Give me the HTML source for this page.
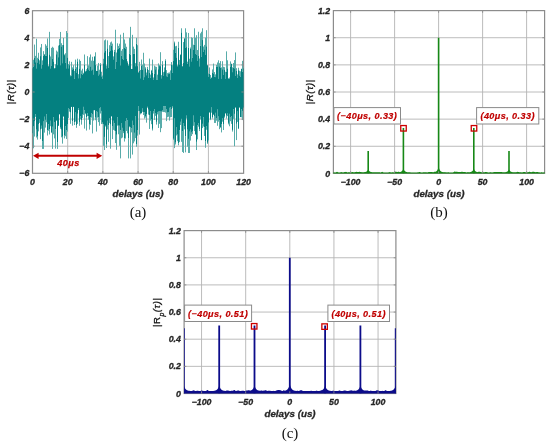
<!DOCTYPE html><html><head><meta charset="utf-8"><style>html,body{margin:0;padding:0;background:#fff}
body{width:550px;height:445px;overflow:hidden}
svg{display:block;filter:blur(0.3px)}
.tk{font-family:'Liberation Sans', Arial, sans-serif;font-size:8.8px;font-weight:bold;font-style:italic;fill:#262626;stroke:#262626;stroke-width:0.3px}
.xl{font-family:'Liberation Sans', Arial, sans-serif;font-size:9.8px;font-weight:bold;font-style:italic;fill:#262626;stroke:#262626;stroke-width:0.3px}
.yl{font-family:'Liberation Sans', Arial, sans-serif;font-size:9.6px;fill:#111;stroke:#111;stroke-width:0.3px;letter-spacing:0.55px}
.cap{font-family:'Liberation Serif',serif;font-size:15px;fill:#111}
.ann{font-family:'Liberation Sans', Arial, sans-serif;font-size:9.1px;font-weight:bold;font-style:italic;fill:#c00000;stroke:#c00000;stroke-width:0.25px;letter-spacing:0.45px}
.ann2{font-family:'Liberation Sans', Arial, sans-serif;font-size:9.1px;font-weight:bold;font-style:italic;fill:#c00000;stroke:#c00000;stroke-width:0.2px;letter-spacing:0.42px}
</style></head><body><svg width="550" height="445" viewBox="0 0 550 445"><rect width="550" height="445" fill="#fff"/><clipPath id="ca"><rect x="32.5" y="10.7" width="211.1" height="162.60000000000002"/></clipPath><path d="M67.68 10.7V173.3M102.87 10.7V173.3M138.05 10.7V173.3M173.23 10.7V173.3M208.42 10.7V173.3M32.5 146.20H243.6M32.5 119.10H243.6M32.5 92.00H243.6M32.5 64.90H243.6M32.5 37.80H243.6" stroke="#b4b4b4" stroke-width="0.9" fill="none"/><rect x="32.5" y="10.7" width="211.1" height="162.60000000000002" fill="none" stroke="#8c8c8c" stroke-width="1.2"/><g clip-path="url(#ca)"><path d="M32.5 68.29V60.22M32.5 134.51V133.18M33.5 66.84V59.78M33.5 148.27V126.59M34.5 57.89V44.57M34.5 136.55V121.59M35.5 62.19V55.87M35.5 116.91V114.36M36.5 68.29V38.77M36.5 137.50V129.74M37.5 62.38V57.81M37.5 139.59V136.66M38.5 58.63V52.78M38.5 131.37V124.51M39.5 64.10V60.33M39.5 122.90V119.19M40.5 56.08V47.44M40.5 139.17V129.75M41.5 68.29V43.98M41.5 128.74V125.84M42.5 64.62V60.38M42.5 148.91V141.20M43.5 55.74V51.17M43.5 148.91V121.62M44.5 54.79V54.00M44.5 132.62V116.80M45.5 55.85V44.21M45.5 127.62V119.88M46.5 55.85V45.71M46.5 122.25V114.36M47.5 47.64V38.46M47.5 135.52V130.23M48.5 66.28V65.63M48.5 130.75V124.28M49.5 54.36V31.84M49.5 134.46V129.37M50.5 68.29V56.47M50.5 126.19V120.83M51.5 65.78V47.87M51.5 133.04V132.39M52.5 59.01V46.75M52.5 148.91V126.82M53.5 61.40V47.74M53.5 134.34V117.08M54.5 68.29V68.29M54.5 138.40V122.46M55.5 68.06V64.27M55.5 148.62V129.22M56.5 54.20V50.55M56.5 120.99V120.19M57.5 65.09V51.67M57.5 148.91V142.42M58.5 57.16V45.58M58.5 126.04V125.75M59.5 44.60V38.92M59.5 114.36V114.36M60.5 65.16V31.95M60.5 128.81V127.67M61.5 46.37V43.21M61.5 137.32V129.79M62.5 63.14V45.05M62.5 143.64V136.76M63.5 45.04V37.92M63.5 116.90V116.25M64.5 55.15V54.37M64.5 138.43V135.64M65.5 62.69V53.25M65.5 136.21V126.28M66.5 68.29V31.02M66.5 138.96V130.21M67.5 57.66V33.04M67.5 131.66V124.32M68.5 68.27V64.16M68.5 117.95V108.41M69.5 65.15V61.29M69.5 111.66V109.02M70.5 76.17V75.27M70.5 123.81V112.67M71.5 76.04V61.84M71.5 106.91V106.91M72.5 69.42V67.36M72.5 125.68V121.13M73.5 68.40V65.16M73.5 106.91V106.91M74.5 78.72V70.87M74.5 125.06V122.43M75.5 68.68V59.59M75.5 121.56V112.57M76.5 72.47V67.19M76.5 127.85V125.25M77.5 61.34V58.68M77.5 123.89V113.80M78.5 78.17V74.20M78.5 109.92V108.16M79.5 68.38V59.43M79.5 125.87V121.94M80.5 78.10V60.91M80.5 119.10V116.45M81.5 73.55V70.52M81.5 124.61V119.99M82.5 74.67V68.74M82.5 117.96V114.66M83.5 73.92V72.82M83.5 114.82V106.91M84.5 65.07V54.49M84.5 128.63V110.38M85.5 71.86V70.87M85.5 114.14V113.43M86.5 70.63V69.22M86.5 130.54V117.37M87.5 68.00V56.12M87.5 116.13V113.06M88.5 69.30V65.35M88.5 119.61V116.37M89.5 71.01V57.30M89.5 129.60V124.65M90.5 66.36V54.44M90.5 124.83V117.37M91.5 70.32V60.63M91.5 117.66V113.20M92.5 69.34V56.80M92.5 133.44V114.57M93.5 74.36V60.80M93.5 120.56V110.68M94.5 56.74V56.07M94.5 110.24V110.16M95.5 65.09V52.32M95.5 120.22V117.65M96.5 71.00V70.90M96.5 131.58V111.18M97.5 70.96V65.63M97.5 117.65V111.95M98.5 75.37V62.95M98.5 122.13V117.21M99.5 74.18V69.72M99.5 125.75V108.61M100.5 64.67V63.10M100.5 113.52V107.59M101.5 76.32V71.77M101.5 124.09V110.94M102.5 78.72V75.56M102.5 123.82V122.37M103.5 63.32V58.85M103.5 145.82V124.02M104.5 52.26V40.35M104.5 150.00V136.95M105.5 50.51V39.49M105.5 126.59V125.76M106.5 68.27V65.50M106.5 148.04V144.67M107.5 48.33V40.35M107.5 129.47V120.82M108.5 67.54V56.06M108.5 141.80V125.34M109.5 52.02V45.19M109.5 123.15V118.47M110.5 50.50V42.36M110.5 148.72V124.65M111.5 45.84V41.54M111.5 116.39V116.39M112.5 50.14V43.64M112.5 139.09V126.02M113.5 59.32V56.36M113.5 129.90V120.80M114.5 51.75V49.87M114.5 130.64V123.26M115.5 68.96V29.73M115.5 143.05V131.45M116.5 61.54V52.54M116.5 149.82V134.81M117.5 49.26V43.32M117.5 125.62V117.37M118.5 48.89V45.93M118.5 134.25V125.76M119.5 47.87V43.72M119.5 145.85V125.80M120.5 65.24V34.66M120.5 158.40V130.25M121.5 55.80V50.70M121.5 138.34V123.51M122.5 59.02V49.05M122.5 137.58V127.91M123.5 59.71V32.82M123.5 133.14V131.63M124.5 47.53V39.52M124.5 141.56V138.49M125.5 48.55V43.59M125.5 138.55V121.51M126.5 58.54V46.79M126.5 130.96V118.37M127.5 62.37V61.26M127.5 133.29V120.45M128.5 65.95V64.63M128.5 158.40V138.25M129.5 53.78V37.79M129.5 127.16V126.49M130.5 54.71V26.83M130.5 158.40V127.51M131.5 68.96V68.96M131.5 132.39V128.22M132.5 68.96V34.83M132.5 154.60V120.83M133.5 53.67V46.64M133.5 143.31V125.03M134.5 53.59V48.89M134.5 141.41V132.87M135.5 66.15V63.15M135.5 138.08V116.39M136.5 43.62V37.89M136.5 146.81V144.22M137.5 66.14V45.20M137.5 135.62V130.04M138.5 72.92V71.92M138.5 111.06V106.23M139.5 70.92V61.89M139.5 134.56V110.97M140.5 78.22V69.95M140.5 114.34V113.55M141.5 65.57V59.47M141.5 113.45V113.14M142.5 69.41V64.73M142.5 111.81V108.63M143.5 79.53V52.76M143.5 115.01V112.19M144.5 77.10V63.54M144.5 118.61V112.50M145.5 68.29V67.19M145.5 117.58V116.10M146.5 75.16V72.50M146.5 122.66V114.09M147.5 68.53V66.88M147.5 107.80V106.84M148.5 77.95V70.03M148.5 114.62V109.76M149.5 72.52V58.59M149.5 128.96V115.40M150.5 77.86V74.57M150.5 120.57V111.07M151.5 70.61V69.91M151.5 124.16V119.01M152.5 72.59V59.61M152.5 130.52V128.83M153.5 79.53V77.48M153.5 113.56V111.09M154.5 73.76V65.58M154.5 119.91V109.20M155.5 69.25V66.53M155.5 115.89V113.00M156.5 79.53V66.87M156.5 124.58V121.91M157.5 79.53V74.64M157.5 114.40V111.97M158.5 69.20V63.39M158.5 127.99V111.69M159.5 66.08V65.09M159.5 123.84V111.50M160.5 66.13V52.19M160.5 132.19V111.63M161.5 78.28V75.17M161.5 128.14V111.70M162.5 65.02V61.13M162.5 111.74V110.53M163.5 75.51V72.18M163.5 112.08V106.24M164.5 71.23V67.41M164.5 112.12V106.23M165.5 60.72V59.33M165.5 112.61V106.23M166.5 76.15V70.08M166.5 121.14V109.44M167.5 76.98V73.14M167.5 117.22V112.68M168.5 74.08V72.63M168.5 116.76V112.05M169.5 73.87V72.47M169.5 120.62V107.89M170.5 79.48V70.41M170.5 117.32V107.10M171.5 64.64V62.06M171.5 117.05V109.11M172.5 72.87V65.17M172.5 107.63V106.23M173.5 60.93V49.80M173.5 139.89V138.78M174.5 43.11V41.64M174.5 148.11V118.57M175.5 52.77V46.25M175.5 144.49V142.69M176.5 57.38V45.82M176.5 135.45V127.02M177.5 66.25V65.29M177.5 141.16V134.74M178.5 47.90V41.77M178.5 145.31V143.25M179.5 64.42V59.95M179.5 142.10V130.26M180.5 55.05V54.42M180.5 125.01V121.86M181.5 32.38V28.31M181.5 141.84V118.91M182.5 66.25V66.25M182.5 151.95V131.38M183.5 62.92V42.07M183.5 152.98V123.49M184.5 38.61V38.04M184.5 129.40V126.02M185.5 47.63V28.31M185.5 152.34V136.29M186.5 47.09V32.36M186.5 118.59V115.71M187.5 63.77V61.66M187.5 146.76V129.69M188.5 47.62V32.98M188.5 152.98V138.93M189.5 66.25V58.76M189.5 152.98V131.74M190.5 48.82V47.53M190.5 140.59V129.72M191.5 61.30V37.32M191.5 136.02V132.65M192.5 57.80V37.96M192.5 134.19V131.49M193.5 49.47V44.74M193.5 125.81V115.71M194.5 44.72V28.31M194.5 131.11V122.61M195.5 53.62V37.81M195.5 134.72V134.39M196.5 54.54V35.19M196.5 150.02V141.87M197.5 60.48V50.02M197.5 139.39V125.12M198.5 55.96V31.76M198.5 126.68V123.38M199.5 66.25V58.50M199.5 131.05V129.07M200.5 45.72V33.34M200.5 119.37V116.44M201.5 56.93V31.74M201.5 140.19V140.00M202.5 40.04V28.31M202.5 128.08V123.90M203.5 51.55V46.54M203.5 126.53V117.29M204.5 49.34V44.89M204.5 135.96V127.20M205.5 54.47V37.61M205.5 147.77V141.16M206.5 46.26V30.19M206.5 129.77V126.37M207.5 65.25V65.17M207.5 143.86V142.81M208.5 76.77V73.59M208.5 140.48V122.65M209.5 73.80V67.46M209.5 112.78V112.09M210.5 78.45V74.97M210.5 120.11V118.88M211.5 77.65V77.60M211.5 112.70V107.58M212.5 72.48V69.45M212.5 118.52V117.37M213.5 73.44V63.60M213.5 114.84V114.61M214.5 76.70V72.05M214.5 122.94V116.53M215.5 77.07V74.36M215.5 122.91V112.89M216.5 66.93V64.97M216.5 120.71V118.11M217.5 66.44V62.47M217.5 125.77V109.65M218.5 78.45V60.31M218.5 121.68V116.62M219.5 66.26V63.18M219.5 129.16V120.19M220.5 67.98V61.09M220.5 127.79V127.29M221.5 78.45V67.40M221.5 132.42V124.32M222.5 69.23V61.21M222.5 121.69V118.54M223.5 74.50V66.81M223.5 130.01V124.52M224.5 69.44V67.17M224.5 117.74V116.77M225.5 78.45V71.78M225.5 113.54V113.35M226.5 71.70V51.35M226.5 118.61V115.73M227.5 68.32V60.31M227.5 116.12V113.65M228.5 78.45V78.45M228.5 124.37V122.92M229.5 78.45V77.47M229.5 126.26V113.90M230.5 66.97V61.38M230.5 121.18V117.51M231.5 63.97V63.70M231.5 123.87V116.35M232.5 72.10V67.31M232.5 131.58V129.95M233.5 67.81V63.02M233.5 118.89V109.26M234.5 68.34V60.08M234.5 146.20V113.92M235.5 75.50V52.43M235.5 107.58V107.58M236.5 70.79V68.16M236.5 140.09V123.84M237.5 77.98V74.37M237.5 121.90V111.62M238.5 70.20V67.74M238.5 129.08V128.62M239.5 75.36V70.76M239.5 107.58V107.58M240.5 76.88V71.29M240.5 117.15V117.04M241.5 68.88V68.73M241.5 117.38V109.33M242.5 71.82V60.82M242.5 120.07V110.94M243.5 68.48V67.45M243.5 107.58V107.58" stroke="#58acaa" stroke-width="1" fill="none"/><path d="M32.5 133.18V68.29M33.5 126.59V66.84M34.5 121.59V57.89M35.5 114.36V62.19M36.5 129.74V68.29M37.5 136.66V62.38M38.5 124.51V58.63M39.5 119.19V64.10M40.5 129.75V56.08M41.5 125.84V68.29M42.5 141.20V64.62M43.5 121.62V55.74M44.5 116.80V54.79M45.5 119.88V55.85M46.5 114.36V55.85M47.5 130.23V47.64M48.5 124.28V66.28M49.5 129.37V54.36M50.5 120.83V68.29M51.5 132.39V65.78M52.5 126.82V59.01M53.5 117.08V61.40M54.5 122.46V68.29M55.5 129.22V68.06M56.5 120.19V54.20M57.5 142.42V65.09M58.5 125.75V57.16M59.5 114.36V44.60M60.5 127.67V65.16M61.5 129.79V46.37M62.5 136.76V63.14M63.5 116.25V45.04M64.5 135.64V55.15M65.5 126.28V62.69M66.5 130.21V68.29M67.5 124.32V57.66M68.5 108.41V68.27M69.5 109.02V65.15M70.5 112.67V76.17M71.5 106.91V76.04M72.5 121.13V69.42M73.5 106.91V68.40M74.5 122.43V78.72M75.5 112.57V68.68M76.5 125.25V72.47M77.5 113.80V61.34M78.5 108.16V78.17M79.5 121.94V68.38M80.5 116.45V78.10M81.5 119.99V73.55M82.5 114.66V74.67M83.5 106.91V73.92M84.5 110.38V65.07M85.5 113.43V71.86M86.5 117.37V70.63M87.5 113.06V68.00M88.5 116.37V69.30M89.5 124.65V71.01M90.5 117.37V66.36M91.5 113.20V70.32M92.5 114.57V69.34M93.5 110.68V74.36M94.5 110.16V56.74M95.5 117.65V65.09M96.5 111.18V71.00M97.5 111.95V70.96M98.5 117.21V75.37M99.5 108.61V74.18M100.5 107.59V64.67M101.5 110.94V76.32M102.5 122.37V78.72M103.5 124.02V63.32M104.5 136.95V52.26M105.5 125.76V50.51M106.5 144.67V68.27M107.5 120.82V48.33M108.5 125.34V67.54M109.5 118.47V52.02M110.5 124.65V50.50M111.5 116.39V45.84M112.5 126.02V50.14M113.5 120.80V59.32M114.5 123.26V51.75M115.5 131.45V68.96M116.5 134.81V61.54M117.5 117.37V49.26M118.5 125.76V48.89M119.5 125.80V47.87M120.5 130.25V65.24M121.5 123.51V55.80M122.5 127.91V59.02M123.5 131.63V59.71M124.5 138.49V47.53M125.5 121.51V48.55M126.5 118.37V58.54M127.5 120.45V62.37M128.5 138.25V65.95M129.5 126.49V53.78M130.5 127.51V54.71M131.5 128.22V68.96M132.5 120.83V68.96M133.5 125.03V53.67M134.5 132.87V53.59M135.5 116.39V66.15M136.5 144.22V43.62M137.5 130.04V66.14M138.5 106.23V72.92M139.5 110.97V70.92M140.5 113.55V78.22M141.5 113.14V65.57M142.5 108.63V69.41M143.5 112.19V79.53M144.5 112.50V77.10M145.5 116.10V68.29M146.5 114.09V75.16M147.5 106.84V68.53M148.5 109.76V77.95M149.5 115.40V72.52M150.5 111.07V77.86M151.5 119.01V70.61M152.5 128.83V72.59M153.5 111.09V79.53M154.5 109.20V73.76M155.5 113.00V69.25M156.5 121.91V79.53M157.5 111.97V79.53M158.5 111.69V69.20M159.5 111.50V66.08M160.5 111.63V66.13M161.5 111.70V78.28M162.5 110.53V65.02M163.5 106.24V75.51M164.5 106.23V71.23M165.5 106.23V60.72M166.5 109.44V76.15M167.5 112.68V76.98M168.5 112.05V74.08M169.5 107.89V73.87M170.5 107.10V79.48M171.5 109.11V64.64M172.5 106.23V72.87M173.5 138.78V60.93M174.5 118.57V43.11M175.5 142.69V52.77M176.5 127.02V57.38M177.5 134.74V66.25M178.5 143.25V47.90M179.5 130.26V64.42M180.5 121.86V55.05M181.5 118.91V32.38M182.5 131.38V66.25M183.5 123.49V62.92M184.5 126.02V38.61M185.5 136.29V47.63M186.5 115.71V47.09M187.5 129.69V63.77M188.5 138.93V47.62M189.5 131.74V66.25M190.5 129.72V48.82M191.5 132.65V61.30M192.5 131.49V57.80M193.5 115.71V49.47M194.5 122.61V44.72M195.5 134.39V53.62M196.5 141.87V54.54M197.5 125.12V60.48M198.5 123.38V55.96M199.5 129.07V66.25M200.5 116.44V45.72M201.5 140.00V56.93M202.5 123.90V40.04M203.5 117.29V51.55M204.5 127.20V49.34M205.5 141.16V54.47M206.5 126.37V46.26M207.5 142.81V65.25M208.5 122.65V76.77M209.5 112.09V73.80M210.5 118.88V78.45M211.5 107.58V77.65M212.5 117.37V72.48M213.5 114.61V73.44M214.5 116.53V76.70M215.5 112.89V77.07M216.5 118.11V66.93M217.5 109.65V66.44M218.5 116.62V78.45M219.5 120.19V66.26M220.5 127.29V67.98M221.5 124.32V78.45M222.5 118.54V69.23M223.5 124.52V74.50M224.5 116.77V69.44M225.5 113.35V78.45M226.5 115.73V71.70M227.5 113.65V68.32M228.5 122.92V78.45M229.5 113.90V78.45M230.5 117.51V66.97M231.5 116.35V63.97M232.5 129.95V72.10M233.5 109.26V67.81M234.5 113.92V68.34M235.5 107.58V75.50M236.5 123.84V70.79M237.5 111.62V77.98M238.5 128.62V70.20M239.5 107.58V75.36M240.5 117.04V76.88M241.5 109.33V68.88M242.5 110.94V71.82M243.5 107.58V68.48" stroke="#048080" stroke-width="1" fill="none"/></g><path d="M67.68 173.3v-2.2M67.68 10.7v2.2M102.87 173.3v-2.2M102.87 10.7v2.2M138.05 173.3v-2.2M138.05 10.7v2.2M173.23 173.3v-2.2M173.23 10.7v2.2M208.42 173.3v-2.2M208.42 10.7v2.2M32.5 146.20h2.2M243.6 146.20h-2.2M32.5 119.10h2.2M243.6 119.10h-2.2M32.5 92.00h2.2M243.6 92.00h-2.2M32.5 64.90h2.2M243.6 64.90h-2.2M32.5 37.80h2.2M243.6 37.80h-2.2" stroke="#8c8c8c" stroke-width="0.9" fill="none"/><text x="32.50" y="184.70" text-anchor="middle" class="tk">0</text><text x="67.68" y="184.70" text-anchor="middle" class="tk">20</text><text x="102.87" y="184.70" text-anchor="middle" class="tk">40</text><text x="138.05" y="184.70" text-anchor="middle" class="tk">60</text><text x="173.23" y="184.70" text-anchor="middle" class="tk">80</text><text x="208.42" y="184.70" text-anchor="middle" class="tk">100</text><text x="243.60" y="184.70" text-anchor="middle" class="tk">120</text><text x="29.30" y="176.40" text-anchor="end" class="tk">−6</text><text x="29.30" y="149.30" text-anchor="end" class="tk">−4</text><text x="29.30" y="122.20" text-anchor="end" class="tk">−2</text><text x="29.30" y="95.10" text-anchor="end" class="tk">0</text><text x="29.30" y="68.00" text-anchor="end" class="tk">2</text><text x="29.30" y="40.90" text-anchor="end" class="tk">4</text><text x="29.30" y="13.80" text-anchor="end" class="tk">6</text><text x="138.05" y="197.2" text-anchor="middle" class="xl">delays (us)</text><text transform="translate(14.1 91.7) rotate(-90)" text-anchor="middle" class="yl">|<tspan font-style="italic">R(τ)</tspan>|</text><text x="138.05" y="217.1" text-anchor="middle" class="cap">(a)</text><path d="M38 155.8H97" stroke="#c00000" stroke-width="2" fill="none"/><path d="M33.0 155.8L38.6 152.7V158.9Z M102.2 155.8L96.6 152.7V158.9Z" fill="#c00000"/><text x="68.6" y="166" text-anchor="middle" class="ann">40μs</text><clipPath id="cb"><rect x="333.4" y="10.6" width="211.20000000000005" height="162.8"/></clipPath><path d="M350.60 10.6V173.4M394.60 10.6V173.4M438.60 10.6V173.4M482.60 10.6V173.4M526.60 10.6V173.4M333.4 146.27H544.6M333.4 119.13H544.6M333.4 92.00H544.6M333.4 64.87H544.6M333.4 37.73H544.6" stroke="#b4b4b4" stroke-width="0.9" fill="none"/><rect x="333.4" y="10.6" width="211.20000000000005" height="162.8" fill="none" stroke="#8c8c8c" stroke-width="1.2"/><g clip-path="url(#cb)"><polygon points="331.00,175.4 331.00,172.35 331.10,172.34 331.20,172.34 331.30,172.33 331.40,172.33 331.50,172.32 331.60,172.32 331.70,172.31 331.80,172.31 331.90,172.31 332.00,172.30 332.10,172.30 332.20,172.29 332.30,172.29 332.40,172.28 332.50,172.28 332.60,172.28 332.70,172.29 332.80,172.29 332.90,172.30 333.00,172.30 333.10,172.31 333.20,172.31 333.30,172.32 333.40,172.32 333.50,172.33 333.60,172.33 333.70,172.34 333.80,172.34 333.90,172.35 334.00,172.35 334.10,172.36 334.20,172.37 334.30,172.39 334.40,172.40 334.50,172.40 334.60,172.40 334.70,172.40 334.80,172.40 334.90,172.40 335.00,172.40 335.10,172.40 335.20,172.40 335.30,172.40 335.40,172.40 335.50,172.40 335.60,172.40 335.70,172.40 335.80,172.38 335.90,172.33 336.00,172.28 336.10,172.23 336.20,172.18 336.30,172.13 336.40,172.08 336.50,172.03 336.60,171.98 336.70,171.93 336.80,171.88 336.90,171.83 337.00,171.78 337.10,171.81 337.20,171.86 337.30,171.91 337.40,171.96 337.50,172.01 337.60,172.06 337.70,172.11 337.80,172.16 337.90,172.21 338.00,172.26 338.10,172.31 338.20,172.36 338.30,172.40 338.40,172.40 338.50,172.40 338.60,172.40 338.70,172.40 338.80,172.40 338.90,172.40 339.00,172.40 339.10,172.40 339.20,172.40 339.30,172.40 339.40,172.40 339.50,172.40 339.60,172.40 339.70,172.40 339.80,172.40 339.90,172.40 340.00,172.40 340.10,172.39 340.20,172.37 340.30,172.34 340.40,172.32 340.50,172.30 340.60,172.27 340.70,172.25 340.80,172.22 340.90,172.20 341.00,172.18 341.10,172.15 341.20,172.13 341.30,172.10 341.40,172.08 341.50,172.05 341.60,172.07 341.70,172.10 341.80,172.13 341.90,172.16 342.00,172.19 342.10,172.22 342.20,172.26 342.30,172.29 342.40,172.32 342.50,172.35 342.60,172.38 342.70,172.40 342.80,172.40 342.90,172.40 343.00,172.40 343.10,172.40 343.20,172.40 343.30,172.40 343.40,172.40 343.50,172.37 343.60,172.34 343.70,172.31 343.80,172.27 343.90,172.24 344.00,172.21 344.10,172.18 344.20,172.14 344.30,172.11 344.40,172.08 344.50,172.05 344.60,172.03 344.70,172.01 344.80,172.00 344.90,171.99 345.00,171.97 345.10,171.96 345.20,171.95 345.30,171.93 345.40,171.92 345.50,171.91 345.60,171.90 345.70,171.88 345.80,171.87 345.90,171.86 346.00,171.84 346.10,171.86 346.20,171.90 346.30,171.94 346.40,171.99 346.50,172.03 346.60,172.07 346.70,172.11 346.80,172.15 346.90,172.20 347.00,172.24 347.10,172.28 347.20,172.32 347.30,172.37 347.40,172.40 347.50,172.40 347.60,172.40 347.70,172.40 347.80,172.40 347.90,172.40 348.00,172.38 348.10,172.36 348.20,172.33 348.30,172.31 348.40,172.29 348.50,172.27 348.60,172.25 348.70,172.23 348.80,172.21 348.90,172.19 349.00,172.16 349.10,172.16 349.20,172.19 349.30,172.21 349.40,172.24 349.50,172.26 349.60,172.28 349.70,172.31 349.80,172.33 349.90,172.36 350.00,172.38 350.10,172.40 350.20,172.40 350.30,172.40 350.40,172.40 350.50,172.40 350.60,172.40 350.70,172.40 350.80,172.40 350.90,172.40 351.00,172.39 351.10,172.36 351.20,172.33 351.30,172.30 351.40,172.27 351.50,172.24 351.60,172.20 351.70,172.17 351.80,172.14 351.90,172.11 352.00,172.08 352.10,172.06 352.20,172.07 352.30,172.08 352.40,172.09 352.50,172.10 352.60,172.11 352.70,172.11 352.80,172.12 352.90,172.13 353.00,172.14 353.10,172.15 353.20,172.16 353.30,172.16 353.40,172.17 353.50,172.18 353.60,172.19 353.70,172.18 353.80,172.18 353.90,172.18 354.00,172.18 354.10,172.17 354.20,172.17 354.30,172.17 354.40,172.17 354.50,172.16 354.60,172.16 354.70,172.16 354.80,172.16 354.90,172.15 355.00,172.15 355.10,172.14 355.20,172.12 355.30,172.10 355.40,172.08 355.50,172.05 355.60,172.03 355.70,172.01 355.80,171.98 355.90,171.96 356.00,171.94 356.10,171.92 356.20,171.89 356.30,171.87 356.40,171.85 356.50,171.82 356.60,171.81 356.70,171.83 356.80,171.84 356.90,171.86 357.00,171.88 357.10,171.90 357.20,171.91 357.30,171.93 357.40,171.95 357.50,171.97 357.60,171.99 357.70,172.00 357.80,172.02 357.90,172.04 358.00,172.06 358.10,172.07 358.20,172.05 358.30,172.04 358.40,172.02 358.50,172.00 358.60,171.98 358.70,171.97 358.80,171.95 358.90,171.93 359.00,171.91 359.10,171.90 359.20,171.88 359.30,171.86 359.40,171.84 359.50,171.83 359.60,171.81 359.70,171.83 359.80,171.84 359.90,171.85 360.00,171.87 360.10,171.88 360.20,171.90 360.30,171.91 360.40,171.92 360.50,171.94 360.60,171.95 360.70,171.97 360.80,171.98 360.90,172.00 361.00,172.01 361.10,172.02 361.20,172.06 361.30,172.09 361.40,172.12 361.50,172.16 361.60,172.19 361.70,172.22 361.80,172.26 361.90,172.29 362.00,172.32 362.10,172.35 362.20,172.36 362.30,172.36 362.40,172.35 362.50,172.35 362.60,172.35 362.70,172.34 362.80,172.34 362.90,172.33 363.00,172.33 363.10,172.32 363.20,172.32 363.30,172.31 363.40,172.31 363.50,172.29 363.60,172.27 363.70,172.24 363.80,172.21 363.90,172.19 364.00,172.16 364.10,172.14 364.20,172.13 364.30,172.13 364.40,172.12 364.50,172.12 364.60,172.11 364.70,172.11 364.80,172.10 364.90,172.10 365.00,172.10 365.10,172.08 365.20,172.06 365.30,172.03 365.40,172.00 365.50,171.97 365.60,171.94 365.70,171.91 365.80,171.87 365.90,171.83 366.00,171.79 366.10,171.75 366.20,171.70 366.30,171.65 366.40,171.59 366.50,171.53 366.60,171.47 366.70,171.40 366.80,171.32 366.90,171.24 367.00,171.16 367.10,171.07 367.20,170.97 367.30,170.86 367.40,170.75 367.50,170.62 367.60,170.49 367.70,170.35 367.80,170.20 367.90,170.04 368.00,169.86 368.10,169.67 368.20,169.47 368.30,169.67 368.40,169.86 368.50,170.04 368.60,170.20 368.70,170.35 368.80,170.49 368.90,170.62 369.00,170.75 369.10,170.86 369.20,170.97 369.30,171.07 369.40,171.16 369.50,171.24 369.60,171.32 369.70,171.40 369.80,171.47 369.90,171.53 370.00,171.59 370.10,171.65 370.20,171.70 370.30,171.75 370.40,171.79 370.50,171.83 370.60,171.87 370.70,171.91 370.80,171.94 370.90,171.97 371.00,172.00 371.10,172.03 371.20,172.06 371.30,172.08 371.40,172.10 371.50,172.11 371.60,172.11 371.70,172.12 371.80,172.15 371.90,172.17 372.00,172.20 372.10,172.22 372.20,172.23 372.30,172.24 372.40,172.25 372.50,172.26 372.60,172.27 372.70,172.28 372.80,172.29 372.90,172.30 373.00,172.31 373.10,172.31 373.20,172.32 373.30,172.32 373.40,172.33 373.50,172.33 373.60,172.34 373.70,172.34 373.80,172.35 373.90,172.34 374.00,172.32 374.10,172.30 374.20,172.28 374.30,172.26 374.40,172.24 374.50,172.22 374.60,172.20 374.70,172.19 374.80,172.19 374.90,172.18 375.00,172.18 375.10,172.17 375.20,172.17 375.30,172.16 375.40,172.16 375.50,172.15 375.60,172.15 375.70,172.14 375.80,172.14 375.90,172.14 376.00,172.13 376.10,172.13 376.20,172.13 376.30,172.14 376.40,172.16 376.50,172.17 376.60,172.18 376.70,172.19 376.80,172.21 376.90,172.22 377.00,172.23 377.10,172.24 377.20,172.26 377.30,172.27 377.40,172.28 377.50,172.29 377.60,172.31 377.70,172.31 377.80,172.30 377.90,172.29 378.00,172.28 378.10,172.28 378.20,172.27 378.30,172.26 378.40,172.25 378.50,172.24 378.60,172.24 378.70,172.23 378.80,172.22 378.90,172.21 379.00,172.20 379.10,172.19 379.20,172.20 379.30,172.22 379.40,172.24 379.50,172.27 379.60,172.29 379.70,172.31 379.80,172.33 379.90,172.35 380.00,172.37 380.10,172.40 380.20,172.40 380.30,172.40 380.40,172.40 380.50,172.40 380.60,172.40 380.70,172.40 380.80,172.40 380.90,172.40 381.00,172.36 381.10,172.31 381.20,172.26 381.30,172.22 381.40,172.17 381.50,172.12 381.60,172.07 381.70,172.03 381.80,171.98 381.90,171.93 382.00,171.88 382.10,171.84 382.20,171.82 382.30,171.87 382.40,171.92 382.50,171.96 382.60,172.01 382.70,172.06 382.80,172.11 382.90,172.15 383.00,172.20 383.10,172.25 383.20,172.30 383.30,172.34 383.40,172.39 383.50,172.40 383.60,172.40 383.70,172.40 383.80,172.40 383.90,172.40 384.00,172.40 384.10,172.40 384.20,172.40 384.30,172.40 384.40,172.40 384.50,172.40 384.60,172.40 384.70,172.40 384.80,172.40 384.90,172.40 385.00,172.40 385.10,172.40 385.20,172.40 385.30,172.40 385.40,172.40 385.50,172.40 385.60,172.40 385.70,172.40 385.80,172.40 385.90,172.40 386.00,172.40 386.10,172.40 386.20,172.40 386.30,172.40 386.40,172.40 386.50,172.40 386.60,172.40 386.70,172.40 386.80,172.40 386.90,172.40 387.00,172.40 387.10,172.40 387.20,172.40 387.30,172.40 387.40,172.40 387.50,172.40 387.60,172.40 387.70,172.40 387.80,172.40 387.90,172.40 388.00,172.40 388.10,172.40 388.20,172.40 388.30,172.40 388.40,172.40 388.50,172.38 388.60,172.35 388.70,172.32 388.80,172.30 388.90,172.27 389.00,172.24 389.10,172.21 389.20,172.19 389.30,172.16 389.40,172.13 389.50,172.10 389.60,172.08 389.70,172.05 389.80,172.08 389.90,172.11 390.00,172.14 390.10,172.17 390.20,172.20 390.30,172.23 390.40,172.26 390.50,172.29 390.60,172.32 390.70,172.34 390.80,172.37 390.90,172.40 391.00,172.40 391.10,172.40 391.20,172.40 391.30,172.40 391.40,172.40 391.50,172.40 391.60,172.39 391.70,172.37 391.80,172.34 391.90,172.32 392.00,172.30 392.10,172.27 392.20,172.25 392.30,172.22 392.40,172.20 392.50,172.18 392.60,172.15 392.70,172.13 392.80,172.15 392.90,172.18 393.00,172.20 393.10,172.23 393.20,172.25 393.30,172.28 393.40,172.30 393.50,172.33 393.60,172.35 393.70,172.38 393.80,172.40 393.90,172.40 394.00,172.40 394.10,172.40 394.20,172.39 394.30,172.39 394.40,172.38 394.50,172.32 394.60,172.26 394.70,172.19 394.80,172.13 394.90,172.07 395.00,172.00 395.10,171.94 395.20,171.88 395.30,171.82 395.40,171.75 395.50,171.69 395.60,171.63 395.70,171.57 395.80,171.59 395.90,171.62 396.00,171.65 396.10,171.69 396.20,171.72 396.30,171.75 396.40,171.78 396.50,171.82 396.60,171.85 396.70,171.88 396.80,171.92 396.90,171.95 397.00,171.98 397.10,172.01 397.20,172.05 397.30,172.03 397.40,172.00 397.50,171.97 397.60,171.94 397.70,171.91 397.80,171.89 397.90,171.86 398.00,171.83 398.10,171.80 398.20,171.77 398.30,171.75 398.40,171.72 398.50,171.69 398.60,171.66 398.70,171.63 398.80,171.67 398.90,171.73 399.00,171.79 399.10,171.85 399.20,171.91 399.30,171.97 399.40,172.03 399.50,172.09 399.60,172.15 399.70,172.13 399.80,172.11 399.90,172.09 400.00,172.07 400.10,172.04 400.20,172.02 400.30,171.99 400.40,171.96 400.50,171.93 400.60,171.89 400.70,171.85 400.80,171.81 400.90,171.77 401.00,171.72 401.10,171.67 401.20,171.62 401.30,171.56 401.40,171.50 401.50,171.43 401.60,171.36 401.70,171.29 401.80,171.20 401.90,171.12 402.00,171.02 402.10,170.92 402.20,170.81 402.30,170.69 402.40,170.56 402.50,170.43 402.60,170.28 402.70,170.13 402.80,169.96 402.90,169.78 403.00,169.58 403.10,169.37 403.20,169.15 403.30,168.91 403.40,168.65 403.50,168.91 403.60,169.15 403.70,169.37 403.80,169.58 403.90,169.78 404.00,169.96 404.10,170.13 404.20,170.28 404.30,170.43 404.40,170.56 404.50,170.69 404.60,170.81 404.70,170.92 404.80,171.02 404.90,171.12 405.00,171.20 405.10,171.29 405.20,171.36 405.30,171.43 405.40,171.50 405.50,171.56 405.60,171.62 405.70,171.67 405.80,171.72 405.90,171.77 406.00,171.81 406.10,171.85 406.20,171.89 406.30,171.93 406.40,171.96 406.50,171.99 406.60,172.02 406.70,172.04 406.80,172.07 406.90,172.09 407.00,172.11 407.10,172.13 407.20,172.15 407.30,172.17 407.40,172.18 407.50,172.20 407.60,172.21 407.70,172.23 407.80,172.24 407.90,172.25 408.00,172.26 408.10,172.27 408.20,172.28 408.30,172.29 408.40,172.29 408.50,172.30 408.60,172.31 408.70,172.31 408.80,172.32 408.90,172.33 409.00,172.33 409.10,172.34 409.20,172.34 409.30,172.34 409.40,172.35 409.50,172.35 409.60,172.36 409.70,172.36 409.80,172.36 409.90,172.36 410.00,172.37 410.10,172.37 410.20,172.37 410.30,172.37 410.40,172.37 410.50,172.38 410.60,172.38 410.70,172.38 410.80,172.38 410.90,172.38 411.00,172.38 411.10,172.38 411.20,172.39 411.30,172.39 411.40,172.39 411.50,172.39 411.60,172.39 411.70,172.39 411.80,172.39 411.90,172.39 412.00,172.39 412.10,172.39 412.20,172.39 412.30,172.39 412.40,172.39 412.50,172.39 412.60,172.39 412.70,172.40 412.80,172.40 412.90,172.40 413.00,172.40 413.10,172.40 413.20,172.40 413.30,172.40 413.40,172.40 413.50,172.40 413.60,172.40 413.70,172.40 413.80,172.40 413.90,172.40 414.00,172.40 414.10,172.40 414.20,172.40 414.30,172.40 414.40,172.40 414.50,172.40 414.60,172.40 414.70,172.40 414.80,172.40 414.90,172.40 415.00,172.40 415.10,172.40 415.20,172.40 415.30,172.40 415.40,172.40 415.50,172.40 415.60,172.40 415.70,172.40 415.80,172.40 415.90,172.40 416.00,172.40 416.10,172.40 416.20,172.40 416.30,172.40 416.40,172.40 416.50,172.40 416.60,172.40 416.70,172.40 416.80,172.40 416.90,172.40 417.00,172.40 417.10,172.40 417.20,172.40 417.30,172.40 417.40,172.38 417.50,172.36 417.60,172.34 417.70,172.32 417.80,172.29 417.90,172.27 418.00,172.25 418.10,172.23 418.20,172.20 418.30,172.18 418.40,172.18 418.50,172.17 418.60,172.16 418.70,172.15 418.80,172.14 418.90,172.13 419.00,172.12 419.10,172.11 419.20,172.10 419.30,172.10 419.40,172.09 419.50,172.08 419.60,172.07 419.70,172.06 419.80,172.06 419.90,172.09 420.00,172.12 420.10,172.15 420.20,172.18 420.30,172.21 420.40,172.24 420.50,172.27 420.60,172.30 420.70,172.34 420.80,172.37 420.90,172.40 421.00,172.40 421.10,172.40 421.20,172.40 421.30,172.40 421.40,172.40 421.50,172.40 421.60,172.40 421.70,172.40 421.80,172.40 421.90,172.40 422.00,172.40 422.10,172.40 422.20,172.40 422.30,172.40 422.40,172.40 422.50,172.40 422.60,172.40 422.70,172.39 422.80,172.38 422.90,172.37 423.00,172.36 423.10,172.35 423.20,172.34 423.30,172.33 423.40,172.32 423.50,172.30 423.60,172.29 423.70,172.28 423.80,172.27 423.90,172.26 424.00,172.25 424.10,172.24 424.20,172.22 424.30,172.21 424.40,172.22 424.50,172.22 424.60,172.23 424.70,172.23 424.80,172.24 424.90,172.24 425.00,172.25 425.10,172.25 425.20,172.26 425.30,172.26 425.40,172.27 425.50,172.27 425.60,172.28 425.70,172.28 425.80,172.28 425.90,172.29 426.00,172.30 426.10,172.31 426.20,172.32 426.30,172.33 426.40,172.34 426.50,172.35 426.60,172.36 426.70,172.37 426.80,172.38 426.90,172.39 427.00,172.40 427.10,172.40 427.20,172.40 427.30,172.40 427.40,172.40 427.50,172.37 427.60,172.34 427.70,172.31 427.80,172.28 427.90,172.25 428.00,172.22 428.10,172.19 428.20,172.16 428.30,172.13 428.40,172.10 428.50,172.07 428.60,172.04 428.70,172.01 428.80,171.98 428.90,171.97 429.00,171.97 429.10,171.97 429.20,171.97 429.30,171.97 429.40,171.97 429.50,171.97 429.60,171.97 429.70,171.97 429.80,171.97 429.90,171.97 430.00,171.96 430.10,171.96 430.20,171.96 430.30,171.96 430.40,171.96 430.50,171.97 430.60,171.97 430.70,171.97 430.80,171.98 430.90,171.98 431.00,171.98 431.10,171.99 431.20,171.99 431.30,171.99 431.40,172.00 431.50,172.00 431.60,172.00 431.70,172.01 431.80,172.01 431.90,172.02 432.00,172.04 432.10,172.06 432.20,172.08 432.30,172.10 432.40,172.11 432.50,172.13 432.60,172.15 432.70,172.17 432.80,172.18 432.90,172.20 433.00,172.22 433.10,172.24 433.20,172.26 433.30,172.27 433.40,172.25 433.50,172.21 433.60,172.16 433.70,172.12 433.80,172.07 433.90,172.03 434.00,171.99 434.10,171.94 434.20,171.90 434.30,171.86 434.40,171.81 434.50,171.77 434.60,171.72 434.70,171.68 434.80,171.64 434.90,171.62 435.00,171.63 435.10,171.63 435.20,171.64 435.30,171.64 435.40,171.65 435.50,171.65 435.60,171.66 435.70,171.66 435.80,171.66 435.90,171.60 436.00,171.54 436.10,171.48 436.20,171.41 436.30,171.34 436.40,171.26 436.50,171.17 436.60,171.08 436.70,170.98 436.80,170.88 436.90,170.77 437.00,170.65 437.10,170.52 437.20,170.38 437.30,170.23 437.40,170.07 437.50,169.89 437.60,169.71 437.70,169.51 437.80,169.29 437.90,169.06 438.00,168.82 438.10,168.55 438.20,168.27 438.30,167.96 438.40,167.63 438.50,167.28 438.60,166.90 438.70,167.28 438.80,167.63 438.90,167.96 439.00,168.27 439.10,168.55 439.20,168.82 439.30,169.06 439.40,169.29 439.50,169.51 439.60,169.71 439.70,169.89 439.80,170.07 439.90,170.23 440.00,170.38 440.10,170.52 440.20,170.65 440.30,170.77 440.40,170.88 440.50,170.98 440.60,171.08 440.70,171.17 440.80,171.26 440.90,171.34 441.00,171.41 441.10,171.48 441.20,171.54 441.30,171.60 441.40,171.66 441.50,171.71 441.60,171.75 441.70,171.80 441.80,171.84 441.90,171.88 442.00,171.92 442.10,171.95 442.20,171.98 442.30,172.01 442.40,172.04 442.50,172.06 442.60,172.08 442.70,172.11 442.80,172.13 442.90,172.15 443.00,172.16 443.10,172.18 443.20,172.19 443.30,172.21 443.40,172.21 443.50,172.18 443.60,172.16 443.70,172.14 443.80,172.11 443.90,172.10 444.00,172.11 444.10,172.11 444.20,172.12 444.30,172.13 444.40,172.13 444.50,172.14 444.60,172.15 444.70,172.16 444.80,172.16 444.90,172.17 445.00,172.18 445.10,172.18 445.20,172.19 445.30,172.20 445.40,172.21 445.50,172.22 445.60,172.24 445.70,172.25 445.80,172.27 445.90,172.28 446.00,172.30 446.10,172.31 446.20,172.33 446.30,172.34 446.40,172.36 446.50,172.37 446.60,172.38 446.70,172.38 446.80,172.38 446.90,172.39 447.00,172.39 447.10,172.39 447.20,172.39 447.30,172.39 447.40,172.38 447.50,172.37 447.60,172.36 447.70,172.35 447.80,172.34 447.90,172.33 448.00,172.32 448.10,172.31 448.20,172.30 448.30,172.29 448.40,172.29 448.50,172.30 448.60,172.32 448.70,172.34 448.80,172.35 448.90,172.37 449.00,172.38 449.10,172.40 449.20,172.40 449.30,172.40 449.40,172.40 449.50,172.40 449.60,172.40 449.70,172.40 449.80,172.40 449.90,172.40 450.00,172.40 450.10,172.40 450.20,172.40 450.30,172.40 450.40,172.40 450.50,172.40 450.60,172.40 450.70,172.40 450.80,172.40 450.90,172.40 451.00,172.40 451.10,172.40 451.20,172.40 451.30,172.39 451.40,172.38 451.50,172.39 451.60,172.40 451.70,172.40 451.80,172.40 451.90,172.40 452.00,172.40 452.10,172.40 452.20,172.40 452.30,172.40 452.40,172.40 452.50,172.40 452.60,172.40 452.70,172.40 452.80,172.40 452.90,172.40 453.00,172.40 453.10,172.39 453.20,172.33 453.30,172.26 453.40,172.20 453.50,172.14 453.60,172.07 453.70,172.01 453.80,171.94 453.90,171.88 454.00,171.82 454.10,171.75 454.20,171.69 454.30,171.62 454.40,171.56 454.50,171.57 454.60,171.59 454.70,171.60 454.80,171.61 454.90,171.63 455.00,171.64 455.10,171.66 455.20,171.67 455.30,171.68 455.40,171.70 455.50,171.71 455.60,171.72 455.70,171.74 455.80,171.75 455.90,171.76 456.00,171.77 456.10,171.78 456.20,171.78 456.30,171.79 456.40,171.79 456.50,171.80 456.60,171.80 456.70,171.81 456.80,171.81 456.90,171.82 457.00,171.83 457.10,171.83 457.20,171.84 457.30,171.84 457.40,171.85 457.50,171.86 457.60,171.88 457.70,171.90 457.80,171.92 457.90,171.94 458.00,171.96 458.10,171.98 458.20,171.99 458.30,172.01 458.40,172.03 458.50,172.05 458.60,172.07 458.70,172.09 458.80,172.11 458.90,172.12 459.00,172.12 459.10,172.10 459.20,172.09 459.30,172.07 459.40,172.06 459.50,172.05 459.60,172.03 459.70,172.02 459.80,172.00 459.90,171.99 460.00,171.98 460.10,171.96 460.20,171.95 460.30,171.93 460.40,171.92 460.50,171.91 460.60,171.91 460.70,171.90 460.80,171.90 460.90,171.89 461.00,171.89 461.10,171.88 461.20,171.88 461.30,171.87 461.40,171.86 461.50,171.86 461.60,171.85 461.70,171.85 461.80,171.84 461.90,171.84 462.00,171.84 462.10,171.84 462.20,171.85 462.30,171.85 462.40,171.86 462.50,171.87 462.60,171.87 462.70,171.88 462.80,171.88 462.90,171.89 463.00,171.89 463.10,171.90 463.20,171.90 463.30,171.91 463.40,171.91 463.50,171.91 463.60,171.92 463.70,171.92 463.80,171.92 463.90,171.92 464.00,171.92 464.10,171.93 464.20,171.93 464.30,171.93 464.40,171.93 464.50,171.93 464.60,171.94 464.70,171.94 464.80,171.94 464.90,171.94 465.00,171.97 465.10,172.00 465.20,172.04 465.30,172.08 465.40,172.11 465.50,172.15 465.60,172.18 465.70,172.22 465.80,172.26 465.90,172.29 466.00,172.33 466.10,172.37 466.20,172.38 466.30,172.38 466.40,172.38 466.50,172.38 466.60,172.38 466.70,172.38 466.80,172.37 466.90,172.37 467.00,172.34 467.10,172.32 467.20,172.29 467.30,172.26 467.40,172.23 467.50,172.21 467.60,172.18 467.70,172.15 467.80,172.13 467.90,172.10 468.00,172.10 468.10,172.12 468.20,172.14 468.30,172.16 468.40,172.18 468.50,172.20 468.60,172.21 468.70,172.23 468.80,172.25 468.90,172.27 469.00,172.28 469.10,172.27 469.20,172.26 469.30,172.25 469.40,172.24 469.50,172.23 469.60,172.21 469.70,172.20 469.80,172.18 469.90,172.17 470.00,172.15 470.10,172.13 470.20,172.11 470.30,172.09 470.40,172.07 470.50,172.04 470.60,172.02 470.70,171.99 470.80,171.96 470.90,171.93 471.00,171.89 471.10,171.85 471.20,171.81 471.30,171.77 471.40,171.72 471.50,171.67 471.60,171.62 471.70,171.56 471.80,171.50 471.90,171.43 472.00,171.36 472.10,171.29 472.20,171.20 472.30,171.12 472.40,171.02 472.50,170.92 472.60,170.81 472.70,170.69 472.80,170.56 472.90,170.43 473.00,170.28 473.10,170.13 473.20,169.96 473.30,169.78 473.40,169.58 473.50,169.37 473.60,169.15 473.70,168.91 473.80,168.65 473.90,168.91 474.00,169.15 474.10,169.37 474.20,169.58 474.30,169.78 474.40,169.96 474.50,170.13 474.60,170.28 474.70,170.43 474.80,170.56 474.90,170.69 475.00,170.81 475.10,170.92 475.20,171.02 475.30,171.12 475.40,171.20 475.50,171.29 475.60,171.36 475.70,171.43 475.80,171.50 475.90,171.56 476.00,171.62 476.10,171.67 476.20,171.72 476.30,171.77 476.40,171.81 476.50,171.85 476.60,171.89 476.70,171.93 476.80,171.96 476.90,171.99 477.00,172.02 477.10,172.04 477.20,172.07 477.30,172.09 477.40,172.11 477.50,172.13 477.60,172.15 477.70,172.12 477.80,172.07 477.90,172.01 478.00,171.96 478.10,171.90 478.20,171.85 478.30,171.79 478.40,171.74 478.50,171.70 478.60,171.70 478.70,171.71 478.80,171.71 478.90,171.72 479.00,171.72 479.10,171.73 479.20,171.73 479.30,171.74 479.40,171.75 479.50,171.75 479.60,171.76 479.70,171.76 479.80,171.77 479.90,171.77 480.00,171.78 480.10,171.82 480.20,171.86 480.30,171.89 480.40,171.93 480.50,171.97 480.60,172.00 480.70,172.04 480.80,172.08 480.90,172.12 481.00,172.15 481.10,172.19 481.20,172.23 481.30,172.26 481.40,172.30 481.50,172.33 481.60,172.33 481.70,172.34 481.80,172.34 481.90,172.34 482.00,172.34 482.10,172.34 482.20,172.34 482.30,172.35 482.40,172.35 482.50,172.35 482.60,172.35 482.70,172.35 482.80,172.35 482.90,172.36 483.00,172.36 483.10,172.35 483.20,172.34 483.30,172.33 483.40,172.33 483.50,172.32 483.60,172.31 483.70,172.30 483.80,172.30 483.90,172.29 484.00,172.28 484.10,172.27 484.20,172.26 484.30,172.26 484.40,172.25 484.50,172.24 484.60,172.22 484.70,172.20 484.80,172.18 484.90,172.16 485.00,172.14 485.10,172.11 485.20,172.09 485.30,172.07 485.40,172.05 485.50,172.03 485.60,172.01 485.70,171.99 485.80,171.97 485.90,171.95 486.00,171.93 486.10,171.95 486.20,171.98 486.30,172.00 486.40,172.03 486.50,172.06 486.60,172.09 486.70,172.11 486.80,172.14 486.90,172.17 487.00,172.20 487.10,172.22 487.20,172.25 487.30,172.28 487.40,172.30 487.50,172.33 487.60,172.35 487.70,172.36 487.80,172.37 487.90,172.38 488.00,172.39 488.10,172.40 488.20,172.40 488.30,172.40 488.40,172.40 488.50,172.40 488.60,172.40 488.70,172.40 488.80,172.40 488.90,172.40 489.00,172.40 489.10,172.40 489.20,172.40 489.30,172.40 489.40,172.40 489.50,172.39 489.60,172.36 489.70,172.34 489.80,172.31 489.90,172.28 490.00,172.26 490.10,172.23 490.20,172.20 490.30,172.17 490.40,172.15 490.50,172.12 490.60,172.14 490.70,172.16 490.80,172.19 490.90,172.22 491.00,172.25 491.10,172.27 491.20,172.30 491.30,172.33 491.40,172.35 491.50,172.38 491.60,172.40 491.70,172.40 491.80,172.40 491.90,172.40 492.00,172.40 492.10,172.40 492.20,172.40 492.30,172.40 492.40,172.40 492.50,172.40 492.60,172.39 492.70,172.37 492.80,172.34 492.90,172.32 493.00,172.30 493.10,172.27 493.20,172.25 493.30,172.23 493.40,172.21 493.50,172.18 493.60,172.16 493.70,172.14 493.80,172.12 493.90,172.10 494.00,172.08 494.10,172.06 494.20,172.04 494.30,172.02 494.40,172.00 494.50,171.98 494.60,171.96 494.70,171.94 494.80,171.92 494.90,171.90 495.00,171.88 495.10,171.88 495.20,171.90 495.30,171.92 495.40,171.93 495.50,171.95 495.60,171.97 495.70,171.99 495.80,172.00 495.90,172.02 496.00,172.04 496.10,172.05 496.20,172.07 496.30,172.09 496.40,172.10 496.50,172.12 496.60,172.12 496.70,172.11 496.80,172.10 496.90,172.09 497.00,172.08 497.10,172.07 497.20,172.07 497.30,172.06 497.40,172.05 497.50,172.04 497.60,172.03 497.70,172.02 497.80,172.01 497.90,172.00 498.00,171.99 498.10,171.99 498.20,171.99 498.30,172.00 498.40,172.01 498.50,172.01 498.60,172.02 498.70,172.02 498.80,172.03 498.90,172.03 499.00,172.04 499.10,172.05 499.20,172.05 499.30,172.06 499.40,172.06 499.50,172.07 499.60,172.07 499.70,172.06 499.80,172.06 499.90,172.06 500.00,172.05 500.10,172.05 500.20,172.04 500.30,172.04 500.40,172.03 500.50,172.03 500.60,172.02 500.70,172.02 500.80,172.01 500.90,172.01 501.00,172.00 501.10,172.01 501.20,172.02 501.30,172.03 501.40,172.04 501.50,172.05 501.60,172.06 501.70,172.08 501.80,172.09 501.90,172.10 502.00,172.11 502.10,172.12 502.20,172.13 502.30,172.15 502.40,172.16 502.50,172.17 502.60,172.18 502.70,172.20 502.80,172.22 502.90,172.24 503.00,172.26 503.10,172.28 503.20,172.30 503.30,172.32 503.40,172.34 503.50,172.34 503.60,172.34 503.70,172.33 503.80,172.33 503.90,172.32 504.00,172.32 504.10,172.31 504.20,172.31 504.30,172.30 504.40,172.29 504.50,172.28 504.60,172.27 504.70,172.26 504.80,172.25 504.90,172.24 505.00,172.23 505.10,172.22 505.20,172.21 505.30,172.19 505.40,172.18 505.50,172.16 505.60,172.14 505.70,172.12 505.80,172.10 505.90,172.08 506.00,172.06 506.10,172.03 506.20,172.00 506.30,171.97 506.40,171.94 506.50,171.91 506.60,171.87 506.70,171.83 506.80,171.79 506.90,171.75 507.00,171.70 507.10,171.65 507.20,171.59 507.30,171.53 507.40,171.47 507.50,171.40 507.60,171.32 507.70,171.24 507.80,171.16 507.90,171.07 508.00,170.97 508.10,170.86 508.20,170.75 508.30,170.62 508.40,170.49 508.50,170.35 508.60,170.20 508.70,170.04 508.80,169.86 508.90,169.67 509.00,169.47 509.10,169.67 509.20,169.86 509.30,170.04 509.40,170.20 509.50,170.35 509.60,170.49 509.70,170.62 509.80,170.75 509.90,170.86 510.00,170.97 510.10,171.07 510.20,171.16 510.30,171.24 510.40,171.32 510.50,171.40 510.60,171.47 510.70,171.53 510.80,171.59 510.90,171.65 511.00,171.70 511.10,171.75 511.20,171.79 511.30,171.83 511.40,171.87 511.50,171.91 511.60,171.94 511.70,171.97 511.80,172.00 511.90,172.03 512.00,172.06 512.10,172.08 512.20,172.10 512.30,172.12 512.40,172.14 512.50,172.16 512.60,172.18 512.70,172.19 512.80,172.21 512.90,172.22 513.00,172.23 513.10,172.24 513.20,172.25 513.30,172.26 513.40,172.27 513.50,172.28 513.60,172.29 513.70,172.30 513.80,172.31 513.90,172.31 514.00,172.32 514.10,172.32 514.20,172.33 514.30,172.33 514.40,172.34 514.50,172.34 514.60,172.35 514.70,172.35 514.80,172.35 514.90,172.36 515.00,172.36 515.10,172.36 515.20,172.37 515.30,172.36 515.40,172.35 515.50,172.34 515.60,172.33 515.70,172.32 515.80,172.31 515.90,172.30 516.00,172.29 516.10,172.28 516.20,172.25 516.30,172.21 516.40,172.18 516.50,172.15 516.60,172.12 516.70,172.09 516.80,172.06 516.90,172.03 517.00,171.99 517.10,171.96 517.20,171.93 517.30,171.90 517.40,171.87 517.50,171.84 517.60,171.81 517.70,171.82 517.80,171.84 517.90,171.86 518.00,171.89 518.10,171.91 518.20,171.93 518.30,171.95 518.40,171.97 518.50,171.99 518.60,172.01 518.70,172.03 518.80,172.05 518.90,172.08 519.00,172.10 519.10,172.12 519.20,172.13 519.30,172.13 519.40,172.14 519.50,172.15 519.60,172.16 519.70,172.17 519.80,172.17 519.90,172.18 520.00,172.19 520.10,172.20 520.20,172.20 520.30,172.21 520.40,172.22 520.50,172.23 520.60,172.24 520.70,172.25 520.80,172.26 520.90,172.28 521.00,172.29 521.10,172.30 521.20,172.32 521.30,172.33 521.40,172.35 521.50,172.36 521.60,172.38 521.70,172.39 521.80,172.40 521.90,172.40 522.00,172.40 522.10,172.40 522.20,172.40 522.30,172.39 522.40,172.36 522.50,172.33 522.60,172.29 522.70,172.26 522.80,172.23 522.90,172.19 523.00,172.16 523.10,172.13 523.20,172.10 523.30,172.06 523.40,172.03 523.50,172.00 523.60,171.96 523.70,171.96 523.80,171.98 523.90,171.99 524.00,172.00 524.10,172.01 524.20,172.02 524.30,172.03 524.40,172.05 524.50,172.06 524.60,172.07 524.70,172.08 524.80,172.09 524.90,172.11 525.00,172.12 525.10,172.13 525.20,172.14 525.30,172.14 525.40,172.15 525.50,172.16 525.60,172.16 525.70,172.17 525.80,172.18 525.90,172.19 526.00,172.19 526.10,172.20 526.20,172.21 526.30,172.21 526.40,172.22 526.50,172.23 526.60,172.23 526.70,172.23 526.80,172.23 526.90,172.23 527.00,172.22 527.10,172.22 527.20,172.22 527.30,172.21 527.40,172.21 527.50,172.21 527.60,172.21 527.70,172.20 527.80,172.20 527.90,172.20 528.00,172.19 528.10,172.19 528.20,172.17 528.30,172.14 528.40,172.11 528.50,172.08 528.60,172.04 528.70,172.01 528.80,171.98 528.90,171.95 529.00,171.92 529.10,171.89 529.20,171.85 529.30,171.82 529.40,171.79 529.50,171.76 529.60,171.73 529.70,171.73 529.80,171.77 529.90,171.81 530.00,171.84 530.10,171.88 530.20,171.92 530.30,171.95 530.40,171.99 530.50,172.03 530.60,172.07 530.70,172.10 530.80,172.14 530.90,172.18 531.00,172.21 531.10,172.25 531.20,172.25 531.30,172.21 531.40,172.18 531.50,172.14 531.60,172.10 531.70,172.07 531.80,172.03 531.90,171.99 532.00,171.96 532.10,171.92 532.20,171.88 532.30,171.84 532.40,171.81 532.50,171.77 532.60,171.73 532.70,171.72 532.80,171.73 532.90,171.74 533.00,171.74 533.10,171.75 533.20,171.76 533.30,171.77 533.40,171.78 533.50,171.79 533.60,171.80 533.70,171.81 533.80,171.82 533.90,171.82 534.00,171.83 534.10,171.84 534.20,171.86 534.30,171.88 534.40,171.90 534.50,171.93 534.60,171.95 534.70,171.98 534.80,172.00 534.90,172.02 535.00,172.05 535.10,172.07 535.20,172.09 535.30,172.12 535.40,172.14 535.50,172.16 535.60,172.19 535.70,172.20 535.80,172.18 535.90,172.17 536.00,172.15 536.10,172.13 536.20,172.12 536.30,172.10 536.40,172.08 536.50,172.07 536.60,172.05 536.70,172.03 536.80,172.02 536.90,172.00 537.00,171.98 537.10,171.97 537.20,171.96 537.30,171.98 537.40,172.00 537.50,172.02 537.60,172.04 537.70,172.06 537.80,172.08 537.90,172.10 538.00,172.12 538.10,172.14 538.20,172.16 538.30,172.18 538.40,172.20 538.50,172.22 538.60,172.24 538.70,172.26 538.80,172.27 538.90,172.29 539.00,172.30 539.10,172.32 539.20,172.33 539.30,172.34 539.40,172.36 539.50,172.37 539.60,172.39 539.70,172.40 539.80,172.40 539.90,172.40 540.00,172.40 540.10,172.40 540.20,172.40 540.30,172.40 540.40,172.40 540.50,172.40 540.60,172.40 540.70,172.40 540.80,172.40 540.90,172.39 541.00,172.38 541.10,172.37 541.20,172.35 541.30,172.34 541.40,172.33 541.50,172.32 541.60,172.31 541.70,172.30 541.80,172.31 541.90,172.33 542.00,172.34 542.10,172.35 542.20,172.37 542.30,172.38 542.40,172.39 542.50,172.40 542.60,172.40 542.70,172.40 542.80,172.40 542.90,172.40 543.00,172.40 543.10,172.40 543.20,172.40 543.30,172.40 543.40,172.40 543.50,172.40 543.60,172.38 543.70,172.35 543.80,172.32 543.90,172.29 544.00,172.26 544.10,172.23 544.20,172.21 544.30,172.18 544.40,172.15 544.50,172.12 544.60,172.09 544.70,172.07 544.80,172.08 544.90,172.09 545.00,172.10 545.10,172.11 545.20,172.12 545.30,172.13 545.40,172.14 545.50,172.15 545.60,172.16 545.70,172.17 545.80,172.18 545.90,172.19 546.00,172.20 546.10,172.21 546.20,172.22 546.20,175.4" fill="#168816"/><path d="M438.60 173.4V37.73" stroke="#168816" stroke-width="1.6"/><path d="M403.40 173.4V127.95" stroke="#168816" stroke-width="1.6"/><path d="M473.80 173.4V127.95" stroke="#168816" stroke-width="1.6"/><path d="M368.20 173.4V151.01" stroke="#168816" stroke-width="1.6"/><path d="M509.00 173.4V151.01" stroke="#168816" stroke-width="1.6"/></g><path d="M350.60 173.4v-2.2M350.60 10.6v2.2M394.60 173.4v-2.2M394.60 10.6v2.2M438.60 173.4v-2.2M438.60 10.6v2.2M482.60 173.4v-2.2M482.60 10.6v2.2M526.60 173.4v-2.2M526.60 10.6v2.2M333.4 146.27h2.2M544.6 146.27h-2.2M333.4 119.13h2.2M544.6 119.13h-2.2M333.4 92.00h2.2M544.6 92.00h-2.2M333.4 64.87h2.2M544.6 64.87h-2.2M333.4 37.73h2.2M544.6 37.73h-2.2" stroke="#8c8c8c" stroke-width="0.9" fill="none"/><text x="350.60" y="184.80" text-anchor="middle" class="tk">−100</text><text x="394.60" y="184.80" text-anchor="middle" class="tk">−50</text><text x="438.60" y="184.80" text-anchor="middle" class="tk">0</text><text x="482.60" y="184.80" text-anchor="middle" class="tk">50</text><text x="526.60" y="184.80" text-anchor="middle" class="tk">100</text><text x="330.20" y="176.50" text-anchor="end" class="tk">0</text><text x="330.20" y="149.37" text-anchor="end" class="tk">0.2</text><text x="330.20" y="122.23" text-anchor="end" class="tk">0.4</text><text x="330.20" y="95.10" text-anchor="end" class="tk">0.6</text><text x="330.20" y="67.97" text-anchor="end" class="tk">0.8</text><text x="330.20" y="40.83" text-anchor="end" class="tk">1</text><text x="330.20" y="13.70" text-anchor="end" class="tk">1.2</text><text x="439.00" y="197.2" text-anchor="middle" class="xl">delays (us)</text><text transform="translate(312.8 91.7) rotate(-90)" text-anchor="middle" class="yl">|<tspan font-style="italic">R(τ)</tspan>|</text><text x="439.00" y="217.3" text-anchor="middle" class="cap">(b)</text><clipPath id="cc"><rect x="184.1" y="230.6" width="211.79999999999998" height="162.9"/></clipPath><path d="M201.55 230.6V393.5M245.68 230.6V393.5M289.80 230.6V393.5M333.93 230.6V393.5M378.05 230.6V393.5M184.1 366.35H395.9M184.1 339.20H395.9M184.1 312.05H395.9M184.1 284.90H395.9M184.1 257.75H395.9" stroke="#b4b4b4" stroke-width="0.9" fill="none"/><rect x="184.1" y="230.6" width="211.79999999999998" height="162.9" fill="none" stroke="#8c8c8c" stroke-width="1.2"/><g clip-path="url(#cc)"><polygon points="181.90,395.5 181.90,389.43 182.00,389.33 182.10,389.22 182.20,389.11 182.30,388.99 182.40,388.86 182.50,388.72 182.60,388.58 182.70,388.43 182.80,388.27 182.90,388.09 183.00,387.91 183.10,387.72 183.20,387.51 183.30,387.30 183.40,387.07 183.50,386.82 183.60,386.56 183.70,386.29 183.80,386.00 183.90,385.69 184.00,386.00 184.10,386.29 184.20,386.56 184.30,386.82 184.40,387.07 184.50,387.30 184.60,387.51 184.70,387.72 184.80,387.91 184.90,388.09 185.00,388.27 185.10,388.43 185.20,388.58 185.30,388.72 185.40,388.86 185.50,388.99 185.60,389.11 185.70,389.22 185.80,389.33 185.90,389.43 186.00,389.53 186.10,389.62 186.20,389.70 186.30,389.78 186.40,389.86 186.50,389.93 186.60,389.99 186.70,390.06 186.80,390.12 186.90,390.17 187.00,390.23 187.10,390.28 187.20,390.32 187.30,390.37 187.40,390.41 187.50,390.45 187.60,390.49 187.70,390.52 187.80,390.55 187.90,390.59 188.00,390.61 188.10,390.64 188.20,390.67 188.30,390.69 188.40,390.72 188.50,390.74 188.60,390.76 188.70,390.78 188.80,390.80 188.90,390.81 189.00,390.83 189.10,390.85 189.20,390.82 189.30,390.79 189.40,390.76 189.50,390.79 189.60,390.82 189.70,390.85 189.80,390.88 189.90,390.91 190.00,390.95 190.10,390.96 190.20,390.97 190.30,390.97 190.40,390.98 190.50,390.99 190.60,390.99 190.70,391.00 190.80,391.01 190.90,391.01 191.00,391.02 191.10,391.02 191.20,391.03 191.30,391.03 191.40,391.03 191.50,391.04 191.60,391.02 191.70,390.99 191.80,390.96 191.90,390.93 192.00,390.90 192.10,390.87 192.20,390.84 192.30,390.81 192.40,390.78 192.50,390.74 192.60,390.70 192.70,390.67 192.80,390.63 192.90,390.59 193.00,390.55 193.10,390.51 193.20,390.48 193.30,390.44 193.40,390.40 193.50,390.36 193.60,390.32 193.70,390.29 193.80,390.25 193.90,390.22 194.00,390.29 194.10,390.37 194.20,390.44 194.30,390.51 194.40,390.58 194.50,390.65 194.60,390.72 194.70,390.79 194.80,390.86 194.90,390.93 195.00,391.00 195.10,391.08 195.20,391.09 195.30,391.09 195.40,391.09 195.50,391.09 195.60,391.09 195.70,391.09 195.80,391.10 195.90,391.10 196.00,391.06 196.10,391.03 196.20,390.99 196.30,390.95 196.40,390.92 196.50,390.88 196.60,390.85 196.70,390.81 196.80,390.77 196.90,390.75 197.00,390.75 197.10,390.76 197.20,390.77 197.30,390.78 197.40,390.79 197.50,390.79 197.60,390.80 197.70,390.81 197.80,390.82 197.90,390.83 198.00,390.83 198.10,390.84 198.20,390.85 198.30,390.86 198.40,390.87 198.50,390.90 198.60,390.92 198.70,390.95 198.80,390.98 198.90,391.01 199.00,391.04 199.10,391.06 199.20,391.09 199.30,391.10 199.40,391.10 199.50,391.10 199.60,391.10 199.70,391.10 199.80,391.10 199.90,391.10 200.00,391.10 200.10,391.10 200.20,391.10 200.30,391.07 200.40,391.02 200.50,390.97 200.60,390.93 200.70,390.88 200.80,390.83 200.90,390.78 201.00,390.73 201.10,390.68 201.20,390.63 201.30,390.58 201.40,390.54 201.50,390.56 201.60,390.58 201.70,390.60 201.80,390.62 201.90,390.63 202.00,390.65 202.10,390.67 202.20,390.69 202.30,390.71 202.40,390.73 202.50,390.74 202.60,390.76 202.70,390.78 202.80,390.80 202.90,390.82 203.00,390.83 203.10,390.85 203.20,390.87 203.30,390.88 203.40,390.90 203.50,390.92 203.60,390.93 203.70,390.95 203.80,390.96 203.90,390.98 204.00,391.00 204.10,391.01 204.20,391.03 204.30,391.05 204.40,391.06 204.50,391.07 204.60,391.07 204.70,391.08 204.80,391.09 204.90,391.09 205.00,391.10 205.10,391.10 205.20,391.10 205.30,391.10 205.40,391.10 205.50,391.10 205.60,391.10 205.70,391.10 205.80,391.10 205.90,391.10 206.00,391.05 206.10,390.96 206.20,390.87 206.30,390.78 206.40,390.70 206.50,390.61 206.60,390.52 206.70,390.43 206.80,390.35 206.90,390.26 207.00,390.17 207.10,390.08 207.20,389.99 207.30,389.91 207.40,389.86 207.50,389.94 207.60,390.01 207.70,390.09 207.80,390.17 207.90,390.25 208.00,390.33 208.10,390.40 208.20,390.48 208.30,390.56 208.40,390.64 208.50,390.72 208.60,390.79 208.70,390.87 208.80,390.95 208.90,391.01 209.00,391.03 209.10,391.05 209.20,391.07 209.30,391.08 209.40,391.08 209.50,391.08 209.60,391.08 209.70,391.08 209.80,391.08 209.90,391.08 210.00,391.08 210.10,391.07 210.20,391.07 210.30,391.07 210.40,391.07 210.50,391.07 210.60,391.07 210.70,391.06 210.80,391.06 210.90,391.06 211.00,391.06 211.10,391.05 211.20,391.05 211.30,391.05 211.40,391.04 211.50,391.04 211.60,391.04 211.70,391.03 211.80,391.03 211.90,391.03 212.00,391.02 212.10,391.02 212.20,391.01 212.30,391.01 212.40,391.00 212.50,390.99 212.60,390.99 212.70,390.98 212.80,390.97 212.90,390.97 213.00,390.96 213.10,390.95 213.20,390.94 213.30,390.93 213.40,390.92 213.50,390.91 213.60,390.90 213.70,390.88 213.80,390.87 213.90,390.86 214.00,390.84 214.10,390.83 214.20,390.81 214.30,390.79 214.40,390.77 214.50,390.75 214.60,390.73 214.70,390.71 214.80,390.69 214.90,390.66 215.00,390.64 215.10,390.61 215.20,390.58 215.30,390.55 215.40,390.51 215.50,390.48 215.60,390.44 215.70,390.40 215.80,390.36 215.90,390.31 216.00,390.26 216.10,390.21 216.20,390.16 216.30,390.10 216.40,390.04 216.50,389.98 216.60,389.91 216.70,389.84 216.80,389.76 216.90,389.68 217.00,389.59 217.10,389.50 217.20,389.41 217.30,389.30 217.40,389.19 217.50,389.08 217.60,388.96 217.70,388.83 217.80,388.69 217.90,388.54 218.00,388.39 218.10,388.22 218.20,388.05 218.30,387.87 218.40,387.67 218.50,387.46 218.60,387.24 218.70,387.01 218.80,386.76 218.90,386.50 219.00,386.22 219.10,385.92 219.20,385.61 219.30,385.92 219.40,386.22 219.50,386.50 219.60,386.76 219.70,387.01 219.80,387.24 219.90,387.46 220.00,387.67 220.10,387.87 220.20,388.05 220.30,388.22 220.40,388.39 220.50,388.54 220.60,388.69 220.70,388.83 220.80,388.96 220.90,389.08 221.00,389.19 221.10,389.30 221.20,389.41 221.30,389.50 221.40,389.59 221.50,389.68 221.60,389.76 221.70,389.84 221.80,389.91 221.90,389.98 222.00,390.04 222.10,390.10 222.20,390.16 222.30,390.21 222.40,390.26 222.50,390.31 222.60,390.36 222.70,390.40 222.80,390.44 222.90,390.48 223.00,390.51 223.10,390.55 223.20,390.58 223.30,390.61 223.40,390.64 223.50,390.66 223.60,390.69 223.70,390.71 223.80,390.73 223.90,390.75 224.00,390.77 224.10,390.79 224.20,390.81 224.30,390.83 224.40,390.84 224.50,390.86 224.60,390.87 224.70,390.88 224.80,390.90 224.90,390.91 225.00,390.92 225.10,390.93 225.20,390.94 225.30,390.95 225.40,390.96 225.50,390.95 225.60,390.91 225.70,390.88 225.80,390.84 225.90,390.80 226.00,390.77 226.10,390.73 226.20,390.69 226.30,390.65 226.40,390.62 226.50,390.58 226.60,390.54 226.70,390.51 226.80,390.47 226.90,390.45 227.00,390.46 227.10,390.47 227.20,390.49 227.30,390.50 227.40,390.51 227.50,390.52 227.60,390.53 227.70,390.54 227.80,390.55 227.90,390.56 228.00,390.57 228.10,390.58 228.20,390.59 228.30,390.61 228.40,390.62 228.50,390.65 228.60,390.67 228.70,390.70 228.80,390.72 228.90,390.75 229.00,390.77 229.10,390.80 229.20,390.82 229.30,390.84 229.40,390.87 229.50,390.89 229.60,390.92 229.70,390.94 229.80,390.97 229.90,390.98 230.00,390.97 230.10,390.96 230.20,390.95 230.30,390.93 230.40,390.92 230.50,390.91 230.60,390.90 230.70,390.89 230.80,390.88 230.90,390.87 231.00,390.86 231.10,390.85 231.20,390.84 231.30,390.83 231.40,390.82 231.50,390.81 231.60,390.81 231.70,390.80 231.80,390.79 231.90,390.79 232.00,390.78 232.10,390.78 232.20,390.77 232.30,390.77 232.40,390.76 232.50,390.75 232.60,390.75 232.70,390.74 232.80,390.74 232.90,390.71 233.00,390.65 233.10,390.60 233.20,390.54 233.30,390.49 233.40,390.43 233.50,390.38 233.60,390.32 233.70,390.27 233.80,390.21 233.90,390.16 234.00,390.10 234.10,390.05 234.20,390.00 234.30,389.94 234.40,389.95 234.50,390.03 234.60,390.11 234.70,390.19 234.80,390.27 234.90,390.35 235.00,390.43 235.10,390.51 235.20,390.59 235.30,390.67 235.40,390.75 235.50,390.83 235.60,390.91 235.70,390.99 235.80,391.07 235.90,391.09 236.00,391.06 236.10,391.03 236.20,390.99 236.30,390.96 236.40,390.93 236.50,390.90 236.60,390.86 236.70,390.83 236.80,390.80 236.90,390.77 237.00,390.73 237.10,390.70 237.20,390.67 237.30,390.64 237.40,390.62 237.50,390.61 237.60,390.60 237.70,390.59 237.80,390.58 237.90,390.58 238.00,390.57 238.10,390.56 238.20,390.55 238.30,390.55 238.40,390.54 238.50,390.53 238.60,390.52 238.70,390.51 238.80,390.51 238.90,390.53 239.00,390.58 239.10,390.63 239.20,390.68 239.30,390.73 239.40,390.78 239.50,390.83 239.60,390.88 239.70,390.93 239.80,390.98 239.90,391.03 240.00,391.08 240.10,391.10 240.20,391.10 240.30,391.10 240.40,391.10 240.50,391.10 240.60,391.10 240.70,391.10 240.80,391.10 240.90,391.07 241.00,391.03 241.10,391.00 241.20,390.97 241.30,390.93 241.40,390.90 241.50,390.86 241.60,390.83 241.70,390.79 241.80,390.76 241.90,390.75 242.00,390.75 242.10,390.75 242.20,390.75 242.30,390.75 242.40,390.75 242.50,390.75 242.60,390.75 242.70,390.75 242.80,390.75 242.90,390.75 243.00,390.75 243.10,390.75 243.20,390.76 243.30,390.76 243.40,390.77 243.50,390.79 243.60,390.81 243.70,390.82 243.80,390.84 243.90,390.86 244.00,390.88 244.10,390.90 244.20,390.92 244.30,390.94 244.40,390.96 244.50,390.98 244.60,391.00 244.70,391.01 244.80,391.03 244.90,391.02 245.00,390.99 245.10,390.96 245.20,390.93 245.30,390.90 245.40,390.87 245.50,390.84 245.60,390.81 245.70,390.77 245.80,390.74 245.90,390.71 246.00,390.68 246.10,390.65 246.20,390.62 246.30,390.59 246.40,390.57 246.50,390.55 246.60,390.54 246.70,390.52 246.80,390.51 246.90,390.50 247.00,390.48 247.10,390.47 247.20,390.46 247.30,390.44 247.40,390.43 247.50,390.41 247.60,390.40 247.70,390.39 247.80,390.37 247.90,390.37 248.00,390.36 248.10,390.36 248.20,390.36 248.30,390.35 248.40,390.35 248.50,390.35 248.60,390.34 248.70,390.34 248.80,390.34 248.90,390.33 249.00,390.33 249.10,390.33 249.20,390.33 249.30,390.32 249.40,390.35 249.50,390.39 249.60,390.43 249.70,390.47 249.80,390.51 249.90,390.54 250.00,390.58 250.10,390.62 250.20,390.66 250.30,390.64 250.40,390.61 250.50,390.58 250.60,390.55 250.70,390.51 250.80,390.48 250.90,390.44 251.00,390.40 251.10,390.36 251.20,390.31 251.30,390.26 251.40,390.21 251.50,390.16 251.60,390.10 251.70,390.04 251.80,389.98 251.90,389.91 252.00,389.84 252.10,389.76 252.20,389.68 252.30,389.59 252.40,389.50 252.50,389.41 252.60,389.30 252.70,389.19 252.80,389.08 252.90,388.96 253.00,388.83 253.10,388.69 253.20,388.54 253.30,388.39 253.40,388.22 253.50,388.05 253.60,387.87 253.70,387.67 253.80,387.46 253.90,387.24 254.00,387.01 254.10,386.76 254.20,386.50 254.30,386.22 254.40,385.92 254.50,385.61 254.60,385.92 254.70,386.22 254.80,386.50 254.90,386.76 255.00,387.01 255.10,387.24 255.20,387.46 255.30,387.67 255.40,387.87 255.50,388.05 255.60,388.22 255.70,388.39 255.80,388.54 255.90,388.69 256.00,388.83 256.10,388.96 256.20,389.08 256.30,389.19 256.40,389.30 256.50,389.41 256.60,389.50 256.70,389.59 256.80,389.68 256.90,389.76 257.00,389.84 257.10,389.91 257.20,389.98 257.30,390.04 257.40,390.10 257.50,390.16 257.60,390.21 257.70,390.26 257.80,390.31 257.90,390.36 258.00,390.40 258.10,390.44 258.20,390.46 258.30,390.44 258.40,390.45 258.50,390.47 258.60,390.49 258.70,390.51 258.80,390.53 258.90,390.56 259.00,390.58 259.10,390.60 259.20,390.62 259.30,390.65 259.40,390.67 259.50,390.69 259.60,390.71 259.70,390.73 259.80,390.76 259.90,390.75 260.00,390.74 260.10,390.72 260.20,390.71 260.30,390.69 260.40,390.68 260.50,390.66 260.60,390.65 260.70,390.63 260.80,390.61 260.90,390.60 261.00,390.58 261.10,390.57 261.20,390.55 261.30,390.54 261.40,390.55 261.50,390.56 261.60,390.57 261.70,390.59 261.80,390.60 261.90,390.62 262.00,390.63 262.10,390.65 262.20,390.66 262.30,390.68 262.40,390.69 262.50,390.71 262.60,390.72 262.70,390.73 262.80,390.75 262.90,390.74 263.00,390.72 263.10,390.70 263.20,390.69 263.30,390.67 263.40,390.65 263.50,390.63 263.60,390.62 263.70,390.60 263.80,390.58 263.90,390.56 264.00,390.55 264.10,390.53 264.20,390.51 264.30,390.49 264.40,390.48 264.50,390.46 264.60,390.45 264.70,390.43 264.80,390.42 264.90,390.40 265.00,390.38 265.10,390.37 265.20,390.35 265.30,390.34 265.40,390.32 265.50,390.30 265.60,390.29 265.70,390.27 265.80,390.26 265.90,390.29 266.00,390.33 266.10,390.38 266.20,390.42 266.30,390.47 266.40,390.51 266.50,390.56 266.60,390.60 266.70,390.65 266.80,390.69 266.90,390.74 267.00,390.78 267.10,390.83 267.20,390.88 267.30,390.92 267.40,390.92 267.50,390.91 267.60,390.89 267.70,390.88 267.80,390.87 267.90,390.86 268.00,390.84 268.10,390.83 268.20,390.82 268.30,390.81 268.40,390.79 268.50,390.78 268.60,390.77 268.70,390.76 268.80,390.74 268.90,390.75 269.00,390.75 269.10,390.76 269.20,390.77 269.30,390.78 269.40,390.79 269.50,390.79 269.60,390.80 269.70,390.81 269.80,390.82 269.90,390.82 270.00,390.83 270.10,390.84 270.20,390.85 270.30,390.85 270.40,390.86 270.50,390.87 270.60,390.88 270.70,390.89 270.80,390.91 270.90,390.92 271.00,390.93 271.10,390.94 271.20,390.95 271.30,390.96 271.40,390.97 271.50,390.98 271.60,390.99 271.70,391.00 271.80,391.01 271.90,391.00 272.00,390.99 272.10,390.98 272.20,390.97 272.30,390.96 272.40,390.94 272.50,390.93 272.60,390.92 272.70,390.91 272.80,390.90 272.90,390.89 273.00,390.88 273.10,390.86 273.20,390.85 273.30,390.84 273.40,390.86 273.50,390.89 273.60,390.92 273.70,390.95 273.80,390.98 273.90,391.01 274.00,391.04 274.10,391.07 274.20,391.10 274.30,391.10 274.40,391.10 274.50,391.10 274.60,391.10 274.70,391.10 274.80,391.10 274.90,391.10 275.00,391.10 275.10,391.10 275.20,391.08 275.30,391.03 275.40,390.97 275.50,390.92 275.60,390.87 275.70,390.82 275.80,390.76 275.90,390.71 276.00,390.66 276.10,390.61 276.20,390.55 276.30,390.50 276.40,390.47 276.50,390.44 276.60,390.41 276.70,390.38 276.80,390.35 276.90,390.33 277.00,390.30 277.10,390.27 277.20,390.24 277.30,390.21 277.40,390.18 277.50,390.15 277.60,390.12 277.70,390.10 277.80,390.07 277.90,390.06 278.00,390.06 278.10,390.06 278.20,390.06 278.30,390.06 278.40,390.06 278.50,390.06 278.60,390.06 278.70,390.06 278.80,390.06 278.90,390.06 279.00,390.06 279.10,390.06 279.20,390.06 279.30,390.06 279.40,390.07 279.50,390.09 279.60,390.10 279.70,390.11 279.80,390.13 279.90,390.14 280.00,390.15 280.10,390.16 280.20,390.18 280.30,390.19 280.40,390.20 280.50,390.22 280.60,390.23 280.70,390.24 280.80,390.25 280.90,390.32 281.00,390.38 281.10,390.45 281.20,390.52 281.30,390.59 281.40,390.65 281.50,390.72 281.60,390.79 281.70,390.86 281.80,390.92 281.90,390.99 282.00,391.03 282.10,391.02 282.20,391.02 282.30,391.02 282.40,391.01 282.50,391.00 282.60,391.00 282.70,390.97 282.80,390.90 282.90,390.82 283.00,390.75 283.10,390.67 283.20,390.60 283.30,390.52 283.40,390.45 283.50,390.37 283.60,390.30 283.70,390.22 283.80,390.15 283.90,390.21 284.00,390.28 284.10,390.34 284.20,390.41 284.30,390.48 284.40,390.55 284.50,390.61 284.60,390.68 284.70,390.75 284.80,390.73 284.90,390.71 285.00,390.68 285.10,390.66 285.20,390.63 285.30,390.60 285.40,390.57 285.50,390.54 285.60,390.51 285.70,390.47 285.80,390.43 285.90,390.39 286.00,390.35 286.10,390.31 286.20,390.26 286.30,390.21 286.40,390.15 286.50,390.10 286.60,390.03 286.70,389.97 286.80,389.90 286.90,389.83 287.00,389.75 287.10,389.67 287.20,389.58 287.30,389.49 287.40,389.39 287.50,389.29 287.60,389.18 287.70,389.06 287.80,388.94 287.90,388.81 288.00,388.67 288.10,388.52 288.20,388.37 288.30,388.20 288.40,388.03 288.50,387.84 288.60,387.64 288.70,387.43 288.80,387.21 288.90,386.98 289.00,386.73 289.10,386.46 289.20,386.18 289.30,385.88 289.40,385.57 289.50,385.23 289.60,384.88 289.70,384.50 289.80,384.10 289.90,384.50 290.00,384.88 290.10,385.23 290.20,385.57 290.30,385.88 290.40,386.18 290.50,386.46 290.60,386.73 290.70,386.98 290.80,387.21 290.90,387.43 291.00,387.64 291.10,387.84 291.20,388.03 291.30,388.20 291.40,388.37 291.50,388.52 291.60,388.67 291.70,388.81 291.80,388.94 291.90,389.06 292.00,389.18 292.10,389.29 292.20,389.39 292.30,389.49 292.40,389.58 292.50,389.67 292.60,389.75 292.70,389.83 292.80,389.90 292.90,389.97 293.00,390.03 293.10,390.10 293.20,390.15 293.30,390.21 293.40,390.26 293.50,390.31 293.60,390.35 293.70,390.39 293.80,390.43 293.90,390.47 294.00,390.51 294.10,390.54 294.20,390.57 294.30,390.60 294.40,390.63 294.50,390.66 294.60,390.68 294.70,390.71 294.80,390.73 294.90,390.75 295.00,390.77 295.10,390.79 295.20,390.81 295.30,390.82 295.40,390.84 295.50,390.86 295.60,390.87 295.70,390.88 295.80,390.89 295.90,390.91 296.00,390.92 296.10,390.93 296.20,390.94 296.30,390.95 296.40,390.96 296.50,390.95 296.60,390.91 296.70,390.87 296.80,390.83 296.90,390.79 297.00,390.75 297.10,390.72 297.20,390.68 297.30,390.64 297.40,390.67 297.50,390.69 297.60,390.72 297.70,390.75 297.80,390.77 297.90,390.80 298.00,390.83 298.10,390.85 298.20,390.88 298.30,390.91 298.40,390.93 298.50,390.96 298.60,390.99 298.70,391.01 298.80,391.03 298.90,390.99 299.00,390.94 299.10,390.90 299.20,390.85 299.30,390.81 299.40,390.76 299.50,390.72 299.60,390.67 299.70,390.63 299.80,390.58 299.90,390.54 300.00,390.49 300.10,390.45 300.20,390.40 300.30,390.36 300.40,390.35 300.50,390.35 300.60,390.34 300.70,390.34 300.80,390.33 300.90,390.33 301.00,390.32 301.10,390.32 301.20,390.31 301.30,390.31 301.40,390.30 301.50,390.29 301.60,390.29 301.70,390.28 301.80,390.29 301.90,390.35 302.00,390.42 302.10,390.49 302.20,390.55 302.30,390.62 302.40,390.69 302.50,390.75 302.60,390.82 302.70,390.89 302.80,390.95 302.90,391.02 303.00,391.09 303.10,391.10 303.20,391.10 303.30,391.10 303.40,391.10 303.50,391.10 303.60,391.10 303.70,391.10 303.80,391.10 303.90,391.10 304.00,391.10 304.10,391.10 304.20,391.10 304.30,391.10 304.40,391.10 304.50,391.10 304.60,391.09 304.70,391.07 304.80,391.06 304.90,391.05 305.00,391.05 305.10,391.04 305.20,391.03 305.30,391.03 305.40,391.02 305.50,391.02 305.60,391.01 305.70,391.01 305.80,391.00 305.90,391.00 306.00,390.99 306.10,390.98 306.20,390.98 306.30,390.98 306.40,391.00 306.50,391.02 306.60,391.04 306.70,391.06 306.80,391.08 306.90,391.10 307.00,391.10 307.10,391.10 307.20,391.10 307.30,391.10 307.40,391.10 307.50,391.10 307.60,391.10 307.70,391.10 307.80,391.10 307.90,391.10 308.00,391.10 308.10,391.10 308.20,391.10 308.30,391.10 308.40,391.10 308.50,391.10 308.60,391.10 308.70,391.10 308.80,391.10 308.90,391.10 309.00,391.10 309.10,391.10 309.20,391.10 309.30,391.10 309.40,391.10 309.50,391.10 309.60,391.10 309.70,391.10 309.80,391.10 309.90,391.08 310.00,391.05 310.10,391.01 310.20,390.98 310.30,390.95 310.40,390.91 310.50,390.88 310.60,390.85 310.70,390.82 310.80,390.79 310.90,390.80 311.00,390.81 311.10,390.82 311.20,390.83 311.30,390.84 311.40,390.85 311.50,390.85 311.60,390.86 311.70,390.87 311.80,390.88 311.90,390.89 312.00,390.90 312.10,390.91 312.20,390.92 312.30,390.93 312.40,390.95 312.50,390.98 312.60,391.00 312.70,391.02 312.80,391.05 312.90,391.07 313.00,391.10 313.10,391.10 313.20,391.09 313.30,391.09 313.40,391.09 313.50,391.09 313.60,391.09 313.70,391.09 313.80,391.09 313.90,391.09 314.00,391.09 314.10,391.09 314.20,391.09 314.30,391.09 314.40,391.09 314.50,391.09 314.60,391.09 314.70,391.09 314.80,391.09 314.90,391.09 315.00,391.09 315.10,391.08 315.20,391.08 315.30,391.06 315.40,391.03 315.50,391.00 315.60,390.97 315.70,390.94 315.80,390.91 315.90,390.87 316.00,390.84 316.10,390.81 316.20,390.78 316.30,390.75 316.40,390.72 316.50,390.68 316.60,390.65 316.70,390.62 316.80,390.61 316.90,390.65 317.00,390.70 317.10,390.74 317.20,390.79 317.30,390.84 317.40,390.88 317.50,390.93 317.60,390.97 317.70,391.02 317.80,391.03 317.90,391.02 318.00,391.02 318.10,391.01 318.20,391.01 318.30,391.00 318.40,390.99 318.50,390.99 318.60,390.98 318.70,390.97 318.80,390.97 318.90,390.96 319.00,390.95 319.10,390.94 319.20,390.93 319.30,390.92 319.40,390.91 319.50,390.90 319.60,390.88 319.70,390.87 319.80,390.86 319.90,390.84 320.00,390.83 320.10,390.81 320.20,390.79 320.30,390.77 320.40,390.75 320.50,390.70 320.60,390.62 320.70,390.55 320.80,390.47 320.90,390.40 321.00,390.32 321.10,390.24 321.20,390.17 321.30,390.12 321.40,390.13 321.50,390.13 321.60,390.14 321.70,390.15 321.80,390.16 321.90,390.17 322.00,390.17 322.10,390.16 322.20,390.10 322.30,390.04 322.40,389.98 322.50,389.91 322.60,389.84 322.70,389.76 322.80,389.68 322.90,389.59 323.00,389.50 323.10,389.41 323.20,389.30 323.30,389.19 323.40,389.08 323.50,388.96 323.60,388.83 323.70,388.69 323.80,388.54 323.90,388.39 324.00,388.22 324.10,388.05 324.20,387.87 324.30,387.67 324.40,387.46 324.50,387.24 324.60,387.01 324.70,386.76 324.80,386.50 324.90,386.22 325.00,385.92 325.10,385.61 325.20,385.92 325.30,386.22 325.40,386.50 325.50,386.76 325.60,387.01 325.70,387.24 325.80,387.46 325.90,387.67 326.00,387.87 326.10,388.05 326.20,388.22 326.30,388.39 326.40,388.54 326.50,388.69 326.60,388.83 326.70,388.96 326.80,389.08 326.90,389.19 327.00,389.30 327.10,389.41 327.20,389.50 327.30,389.59 327.40,389.68 327.50,389.76 327.60,389.84 327.70,389.91 327.80,389.98 327.90,390.04 328.00,390.10 328.10,390.16 328.20,390.21 328.30,390.26 328.40,390.31 328.50,390.36 328.60,390.40 328.70,390.44 328.80,390.48 328.90,390.51 329.00,390.55 329.10,390.58 329.20,390.61 329.30,390.64 329.40,390.66 329.50,390.69 329.60,390.71 329.70,390.73 329.80,390.75 329.90,390.77 330.00,390.79 330.10,390.81 330.20,390.83 330.30,390.84 330.40,390.86 330.50,390.87 330.60,390.88 330.70,390.90 330.80,390.91 330.90,390.92 331.00,390.93 331.10,390.94 331.20,390.95 331.30,390.96 331.40,390.97 331.50,390.97 331.60,390.98 331.70,390.99 331.80,390.99 331.90,390.99 332.00,390.96 332.10,390.93 332.20,390.90 332.30,390.87 332.40,390.84 332.50,390.81 332.60,390.78 332.70,390.75 332.80,390.72 332.90,390.69 333.00,390.66 333.10,390.63 333.20,390.60 333.30,390.60 333.40,390.64 333.50,390.69 333.60,390.74 333.70,390.78 333.80,390.83 333.90,390.88 334.00,390.92 334.10,390.97 334.20,391.02 334.30,391.07 334.40,391.08 334.50,391.08 334.60,391.08 334.70,391.08 334.80,391.08 334.90,391.08 335.00,391.08 335.10,391.08 335.20,391.09 335.30,391.09 335.40,391.09 335.50,391.09 335.60,391.09 335.70,391.09 335.80,391.09 335.90,391.09 336.00,391.09 336.10,391.09 336.20,391.09 336.30,391.09 336.40,391.09 336.50,391.09 336.60,391.09 336.70,391.09 336.80,391.09 336.90,391.09 337.00,391.09 337.10,391.10 337.20,391.10 337.30,391.10 337.40,391.10 337.50,391.10 337.60,391.10 337.70,391.10 337.80,391.10 337.90,391.10 338.00,391.10 338.10,391.07 338.20,391.01 338.30,390.95 338.40,390.89 338.50,390.83 338.60,390.77 338.70,390.71 338.80,390.65 338.90,390.59 339.00,390.53 339.10,390.47 339.20,390.41 339.30,390.39 339.40,390.42 339.50,390.46 339.60,390.50 339.70,390.53 339.80,390.57 339.90,390.60 340.00,390.64 340.10,390.67 340.20,390.71 340.30,390.74 340.40,390.78 340.50,390.81 340.60,390.85 340.70,390.88 340.80,390.91 340.90,390.94 341.00,390.96 341.10,390.99 341.20,391.01 341.30,391.04 341.40,391.06 341.50,391.09 341.60,391.10 341.70,391.10 341.80,391.10 341.90,391.10 342.00,391.10 342.10,391.10 342.20,391.10 342.30,391.10 342.40,391.10 342.50,391.10 342.60,391.10 342.70,391.08 342.80,391.03 342.90,390.99 343.00,390.94 343.10,390.90 343.20,390.85 343.30,390.81 343.40,390.77 343.50,390.72 343.60,390.68 343.70,390.63 343.80,390.60 343.90,390.60 344.00,390.59 344.10,390.59 344.20,390.58 344.30,390.57 344.40,390.57 344.50,390.56 344.60,390.55 344.70,390.55 344.80,390.54 344.90,390.53 345.00,390.53 345.10,390.52 345.20,390.51 345.30,390.53 345.40,390.55 345.50,390.58 345.60,390.61 345.70,390.64 345.80,390.67 345.90,390.70 346.00,390.73 346.10,390.76 346.20,390.78 346.30,390.81 346.40,390.84 346.50,390.87 346.60,390.90 346.70,390.93 346.80,390.94 346.90,390.94 347.00,390.95 347.10,390.95 347.20,390.95 347.30,390.95 347.40,390.96 347.50,390.96 347.60,390.96 347.70,390.96 347.80,390.97 347.90,390.97 348.00,390.97 348.10,390.98 348.20,390.98 348.30,390.97 348.40,390.94 348.50,390.92 348.60,390.90 348.70,390.87 348.80,390.85 348.90,390.83 349.00,390.80 349.10,390.78 349.20,390.76 349.30,390.74 349.40,390.71 349.50,390.69 349.60,390.67 349.70,390.64 349.80,390.62 349.90,390.60 350.00,390.57 350.10,390.55 350.20,390.53 350.30,390.50 350.40,390.48 350.50,390.46 350.60,390.43 350.70,390.41 350.80,390.39 350.90,390.37 351.00,390.34 351.10,390.32 351.20,390.30 351.30,390.30 351.40,390.34 351.50,390.37 351.60,390.40 351.70,390.43 351.80,390.46 351.90,390.49 352.00,390.53 352.10,390.56 352.20,390.59 352.30,390.62 352.40,390.65 352.50,390.68 352.60,390.72 352.70,390.75 352.80,390.75 352.90,390.74 353.00,390.73 353.10,390.72 353.20,390.71 353.30,390.70 353.40,390.69 353.50,390.67 353.60,390.66 353.70,390.65 353.80,390.64 353.90,390.63 354.00,390.62 354.10,390.61 354.20,390.59 354.30,390.60 354.40,390.62 354.50,390.64 354.60,390.65 354.70,390.67 354.80,390.69 354.90,390.71 355.00,390.72 355.10,390.74 355.20,390.76 355.30,390.78 355.40,390.79 355.50,390.79 355.60,390.77 355.70,390.75 355.80,390.73 355.90,390.71 356.00,390.69 356.10,390.66 356.20,390.64 356.30,390.61 356.40,390.58 356.50,390.55 356.60,390.51 356.70,390.48 356.80,390.44 356.90,390.40 357.00,390.36 357.10,390.31 357.20,390.26 357.30,390.21 357.40,390.16 357.50,390.10 357.60,390.04 357.70,389.98 357.80,389.91 357.90,389.84 358.00,389.76 358.10,389.68 358.20,389.59 358.30,389.50 358.40,389.41 358.50,389.30 358.60,389.19 358.70,389.08 358.80,388.96 358.90,388.83 359.00,388.69 359.10,388.54 359.20,388.39 359.30,388.22 359.40,388.05 359.50,387.87 359.60,387.67 359.70,387.46 359.80,387.24 359.90,387.01 360.00,386.76 360.10,386.50 360.20,386.22 360.30,385.92 360.40,385.61 360.50,385.92 360.60,386.22 360.70,386.50 360.80,386.76 360.90,387.01 361.00,387.24 361.10,387.46 361.20,387.67 361.30,387.87 361.40,388.05 361.50,388.22 361.60,388.39 361.70,388.54 361.80,388.69 361.90,388.83 362.00,388.96 362.10,389.08 362.20,389.19 362.30,389.30 362.40,389.41 362.50,389.50 362.60,389.59 362.70,389.68 362.80,389.76 362.90,389.84 363.00,389.91 363.10,389.98 363.20,390.04 363.30,390.10 363.40,390.16 363.50,390.21 363.60,390.26 363.70,390.31 363.80,390.36 363.90,390.40 364.00,390.44 364.10,390.48 364.20,390.51 364.30,390.55 364.40,390.53 364.50,390.49 364.60,390.46 364.70,390.42 364.80,390.42 364.90,390.43 365.00,390.45 365.10,390.46 365.20,390.47 365.30,390.49 365.40,390.50 365.50,390.51 365.60,390.53 365.70,390.54 365.80,390.55 365.90,390.57 366.00,390.58 366.10,390.59 366.20,390.61 366.30,390.60 366.40,390.59 366.50,390.58 366.60,390.57 366.70,390.56 366.80,390.54 366.90,390.53 367.00,390.52 367.10,390.51 367.20,390.50 367.30,390.49 367.40,390.48 367.50,390.46 367.60,390.45 367.70,390.44 367.80,390.48 367.90,390.54 368.00,390.59 368.10,390.65 368.20,390.70 368.30,390.76 368.40,390.82 368.50,390.87 368.60,390.93 368.70,390.98 368.80,391.04 368.90,391.06 369.00,391.07 369.10,391.07 369.20,391.07 369.30,391.07 369.40,391.07 369.50,391.07 369.60,391.08 369.70,391.06 369.80,391.01 369.90,390.96 370.00,390.92 370.10,390.87 370.20,390.82 370.30,390.78 370.40,390.73 370.50,390.68 370.60,390.64 370.70,390.59 370.80,390.60 370.90,390.64 371.00,390.67 371.10,390.71 371.20,390.74 371.30,390.78 371.40,390.81 371.50,390.85 371.60,390.88 371.70,390.91 371.80,390.95 371.90,390.98 372.00,391.02 372.10,391.05 372.20,391.09 372.30,391.09 372.40,391.10 372.50,391.10 372.60,391.10 372.70,391.10 372.80,391.10 372.90,391.10 373.00,391.10 373.10,391.10 373.20,391.10 373.30,391.10 373.40,391.10 373.50,391.10 373.60,391.10 373.70,391.10 373.80,391.10 373.90,391.10 374.00,391.10 374.10,391.10 374.20,391.10 374.30,391.10 374.40,391.10 374.50,391.10 374.60,391.10 374.70,391.10 374.80,391.10 374.90,391.10 375.00,391.10 375.10,391.10 375.20,391.10 375.30,391.10 375.40,391.10 375.50,391.04 375.60,390.98 375.70,390.92 375.80,390.85 375.90,390.79 376.00,390.73 376.10,390.67 376.20,390.61 376.30,390.54 376.40,390.48 376.50,390.42 376.60,390.36 376.70,390.30 376.80,390.29 376.90,390.31 377.00,390.32 377.10,390.33 377.20,390.34 377.30,390.35 377.40,390.36 377.50,390.37 377.60,390.39 377.70,390.40 377.80,390.41 377.90,390.42 378.00,390.43 378.10,390.44 378.20,390.46 378.30,390.50 378.40,390.54 378.50,390.59 378.60,390.63 378.70,390.68 378.80,390.73 378.90,390.77 379.00,390.82 379.10,390.87 379.20,390.91 379.30,390.96 379.40,391.01 379.50,391.05 379.60,391.10 379.70,391.10 379.80,391.10 379.90,391.10 380.00,391.10 380.10,391.10 380.20,391.10 380.30,391.10 380.40,391.10 380.50,391.10 380.60,391.10 380.70,391.10 380.80,391.10 380.90,391.10 381.00,391.10 381.10,391.10 381.20,391.10 381.30,391.10 381.40,391.10 381.50,391.10 381.60,391.10 381.70,391.10 381.80,391.10 381.90,391.07 382.00,391.04 382.10,391.01 382.20,390.98 382.30,390.95 382.40,390.92 382.50,390.89 382.60,390.86 382.70,390.83 382.80,390.84 382.90,390.85 383.00,390.86 383.10,390.88 383.20,390.89 383.30,390.91 383.40,390.92 383.50,390.94 383.60,390.95 383.70,390.96 383.80,390.98 383.90,390.99 384.00,391.01 384.10,391.02 384.20,391.04 384.30,390.98 384.40,390.92 384.50,390.85 384.60,390.79 384.70,390.73 384.80,390.66 384.90,390.60 385.00,390.54 385.10,390.47 385.20,390.41 385.30,390.34 385.40,390.28 385.50,390.22 385.60,390.15 385.70,390.09 385.80,390.15 385.90,390.23 386.00,390.31 386.10,390.39 386.20,390.47 386.30,390.55 386.40,390.63 386.50,390.71 386.60,390.79 386.70,390.87 386.80,390.95 386.90,391.03 387.00,391.07 387.10,391.07 387.20,391.06 387.30,391.06 387.40,391.06 387.50,391.06 387.60,391.05 387.70,391.05 387.80,391.05 387.90,391.04 388.00,391.04 388.10,391.04 388.20,391.03 388.30,391.03 388.40,391.03 388.50,391.02 388.60,391.02 388.70,391.01 388.80,391.01 388.90,391.00 389.00,390.99 389.10,390.99 389.20,390.98 389.30,390.97 389.40,390.97 389.50,390.96 389.60,390.95 389.70,390.94 389.80,390.93 389.90,390.92 390.00,390.91 390.10,390.90 390.20,390.89 390.30,390.87 390.40,390.86 390.50,390.85 390.60,390.83 390.70,390.81 390.80,390.80 390.90,390.78 391.00,390.76 391.10,390.74 391.20,390.72 391.30,390.69 391.40,390.67 391.50,390.64 391.60,390.61 391.70,390.59 391.80,390.55 391.90,390.52 392.00,390.49 392.10,390.45 392.20,390.41 392.30,390.37 392.40,390.32 392.50,390.28 392.60,390.23 392.70,390.17 392.80,390.12 392.90,390.06 393.00,389.99 393.10,389.93 393.20,389.86 393.30,389.78 393.40,389.70 393.50,389.62 393.60,389.53 393.70,389.43 393.80,389.33 393.90,389.22 394.00,389.11 394.10,388.99 394.20,388.86 394.30,388.72 394.40,388.58 394.50,388.43 394.60,388.27 394.70,388.09 394.80,387.91 394.90,387.72 395.00,387.51 395.10,387.30 395.20,387.07 395.30,386.82 395.40,386.56 395.50,386.29 395.60,386.00 395.70,385.69 395.80,386.00 395.90,386.29 396.00,386.56 396.10,386.82 396.20,387.07 396.30,387.30 396.40,387.51 396.50,387.72 396.60,387.91 396.70,388.09 396.80,388.27 396.90,388.43 397.00,388.58 397.10,388.72 397.20,388.86 397.30,388.99 397.40,389.11 397.50,389.22 397.60,389.33 397.60,395.5" fill="#0c0c8a"/><path d="M289.80 393.5V257.75" stroke="#0c0c8a" stroke-width="1.8"/><path d="M254.50 393.5V325.62" stroke="#0c0c8a" stroke-width="1.8"/><path d="M325.10 393.5V325.62" stroke="#0c0c8a" stroke-width="1.8"/><path d="M219.20 393.5V325.62" stroke="#0c0c8a" stroke-width="1.8"/><path d="M360.40 393.5V325.62" stroke="#0c0c8a" stroke-width="1.8"/><path d="M183.90 393.5V328.34" stroke="#0c0c8a" stroke-width="1.8"/><path d="M395.70 393.5V328.34" stroke="#0c0c8a" stroke-width="1.8"/></g><path d="M201.55 393.5v-2.2M201.55 230.6v2.2M245.68 393.5v-2.2M245.68 230.6v2.2M289.80 393.5v-2.2M289.80 230.6v2.2M333.93 393.5v-2.2M333.93 230.6v2.2M378.05 393.5v-2.2M378.05 230.6v2.2M184.1 366.35h2.2M395.9 366.35h-2.2M184.1 339.20h2.2M395.9 339.20h-2.2M184.1 312.05h2.2M395.9 312.05h-2.2M184.1 284.90h2.2M395.9 284.90h-2.2M184.1 257.75h2.2M395.9 257.75h-2.2" stroke="#8c8c8c" stroke-width="0.9" fill="none"/><text x="201.55" y="404.90" text-anchor="middle" class="tk">−100</text><text x="245.68" y="404.90" text-anchor="middle" class="tk">−50</text><text x="289.80" y="404.90" text-anchor="middle" class="tk">0</text><text x="333.93" y="404.90" text-anchor="middle" class="tk">50</text><text x="378.05" y="404.90" text-anchor="middle" class="tk">100</text><text x="180.90" y="396.60" text-anchor="end" class="tk">0</text><text x="180.90" y="369.45" text-anchor="end" class="tk">0.2</text><text x="180.90" y="342.30" text-anchor="end" class="tk">0.4</text><text x="180.90" y="315.15" text-anchor="end" class="tk">0.6</text><text x="180.90" y="288.00" text-anchor="end" class="tk">0.8</text><text x="180.90" y="260.85" text-anchor="end" class="tk">1</text><text x="180.90" y="233.70" text-anchor="end" class="tk">1.2</text><text x="290.00" y="417.4" text-anchor="middle" class="xl">delays (us)</text><text transform="translate(159.6 312.3) rotate(-90)" text-anchor="middle" class="yl">|R<tspan font-style="italic" font-size="6.8" dy="4">p</tspan><tspan dy="-4" font-style="italic">(τ)</tspan>|</text><text x="290.00" y="437.5" text-anchor="middle" class="cap">(c)</text><rect x="333.9" y="107.6" width="66.6" height="16.4" fill="#fff" stroke="#8a8a8a" stroke-width="1"/><text x="367.20" y="119.00" text-anchor="middle" class="ann2">(−40μs, 0.33)</text><rect x="400.75" y="125.55" width="5.5" height="5.5" fill="none" stroke="#cc0000" stroke-width="1.3"/><rect x="476.6" y="107.6" width="62.2" height="16.4" fill="#fff" stroke="#8a8a8a" stroke-width="1"/><text x="507.70" y="119.00" text-anchor="middle" class="ann2">(40μs, 0.33)</text><rect x="471.25" y="125.55" width="5.5" height="5.5" fill="none" stroke="#cc0000" stroke-width="1.3"/><rect x="184.6" y="305.1" width="67.0" height="16.4" fill="#fff" stroke="#8a8a8a" stroke-width="1"/><text x="218.10" y="316.50" text-anchor="middle" class="ann2">(−40μs, 0.51)</text><rect x="251.45" y="323.55" width="5.5" height="5.5" fill="none" stroke="#cc0000" stroke-width="1.3"/><rect x="327.9" y="305.1" width="61.6" height="16.4" fill="#fff" stroke="#8a8a8a" stroke-width="1"/><text x="358.70" y="316.50" text-anchor="middle" class="ann2">(40μs, 0.51)</text><rect x="321.85" y="323.85" width="5.5" height="5.5" fill="none" stroke="#cc0000" stroke-width="1.3"/></svg></body></html>
